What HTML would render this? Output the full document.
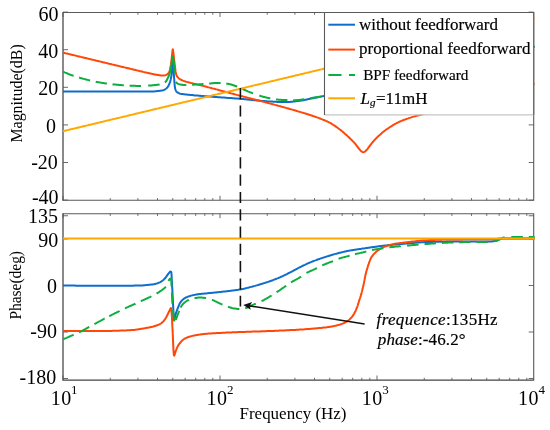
<!DOCTYPE html>
<html lang="en"><head><meta charset="utf-8"><title>Bode plot</title>
<style>html,body{margin:0;padding:0;background:#fff;}body{width:550px;height:430px;overflow:hidden;}svg{display:block;}text{font-family:"Liberation Serif","Times New Roman",serif;fill:#000;}.b{stroke:#000;stroke-width:0.18px;}</style>
</head><body>
<svg width="550" height="430" viewBox="0 0 550 430">
<rect width="550" height="430" fill="#fff"/>
<defs><clipPath id="ct"><rect x="62" y="11" width="473" height="190"/></clipPath><clipPath id="cb"><rect x="62" y="213" width="473" height="168"/></clipPath></defs>
<g fill="none" stroke="#5a5a5a" stroke-width="1.1">
<path d="M63.0,12.5 H533.7 V200.3 H63.0"/>
<path d="M63.0,213.7 H533.7 V380.0"/>
</g>
<path d="M63.0,12.0 V200.8 M63.0,213.2 V380.6 M62.5,380.0 H534.2" fill="none" stroke="#444" stroke-width="1.25"/>
<g fill="none" stroke="#5a5a5a" stroke-width="0.9">
<path d="M63.00,200.3 v-4.5 M110.26,200.3 v-2.2 M137.91,200.3 v-2.2 M157.52,200.3 v-2.2 M172.74,200.3 v-2.2 M185.17,200.3 v-2.2 M195.68,200.3 v-2.2 M204.79,200.3 v-2.2 M212.82,200.3 v-2.2 M220.00,200.3 v-4.5 M267.26,200.3 v-2.2 M294.91,200.3 v-2.2 M314.52,200.3 v-2.2 M329.74,200.3 v-2.2 M342.17,200.3 v-2.2 M352.68,200.3 v-2.2 M361.79,200.3 v-2.2 M369.82,200.3 v-2.2 M377.00,200.3 v-4.5 M424.26,200.3 v-2.2 M451.91,200.3 v-2.2 M471.52,200.3 v-2.2 M486.74,200.3 v-2.2 M499.17,200.3 v-2.2 M509.68,200.3 v-2.2 M518.79,200.3 v-2.2 M526.82,200.3 v-2.2"/>
<path d="M63.00,12.5 v4.5 M110.26,12.5 v2.2 M137.91,12.5 v2.2 M157.52,12.5 v2.2 M172.74,12.5 v2.2 M185.17,12.5 v2.2 M195.68,12.5 v2.2 M204.79,12.5 v2.2 M212.82,12.5 v2.2 M220.00,12.5 v4.5 M267.26,12.5 v2.2 M294.91,12.5 v2.2 M314.52,12.5 v2.2 M329.74,12.5 v2.2 M342.17,12.5 v2.2 M352.68,12.5 v2.2 M361.79,12.5 v2.2 M369.82,12.5 v2.2 M377.00,12.5 v4.5 M424.26,12.5 v2.2 M451.91,12.5 v2.2 M471.52,12.5 v2.2 M486.74,12.5 v2.2 M499.17,12.5 v2.2 M509.68,12.5 v2.2 M518.79,12.5 v2.2 M526.82,12.5 v2.2"/>
<path d="M63.00,380.0 v-4.5 M110.26,380.0 v-2.2 M137.91,380.0 v-2.2 M157.52,380.0 v-2.2 M172.74,380.0 v-2.2 M185.17,380.0 v-2.2 M195.68,380.0 v-2.2 M204.79,380.0 v-2.2 M212.82,380.0 v-2.2 M220.00,380.0 v-4.5 M267.26,380.0 v-2.2 M294.91,380.0 v-2.2 M314.52,380.0 v-2.2 M329.74,380.0 v-2.2 M342.17,380.0 v-2.2 M352.68,380.0 v-2.2 M361.79,380.0 v-2.2 M369.82,380.0 v-2.2 M377.00,380.0 v-4.5 M424.26,380.0 v-2.2 M451.91,380.0 v-2.2 M471.52,380.0 v-2.2 M486.74,380.0 v-2.2 M499.17,380.0 v-2.2 M509.68,380.0 v-2.2 M518.79,380.0 v-2.2 M526.82,380.0 v-2.2"/>
<path d="M63.00,213.7 v4.5 M110.26,213.7 v2.2 M137.91,213.7 v2.2 M157.52,213.7 v2.2 M172.74,213.7 v2.2 M185.17,213.7 v2.2 M195.68,213.7 v2.2 M204.79,213.7 v2.2 M212.82,213.7 v2.2 M220.00,213.7 v4.5 M267.26,213.7 v2.2 M294.91,213.7 v2.2 M314.52,213.7 v2.2 M329.74,213.7 v2.2 M342.17,213.7 v2.2 M352.68,213.7 v2.2 M361.79,213.7 v2.2 M369.82,213.7 v2.2 M377.00,213.7 v4.5 M424.26,213.7 v2.2 M451.91,213.7 v2.2 M471.52,213.7 v2.2 M486.74,213.7 v2.2 M499.17,213.7 v2.2 M509.68,213.7 v2.2 M518.79,213.7 v2.2 M526.82,213.7 v2.2"/>
<path d="M63.0,12.10 h5 M533.7,12.10 h-5 M63.0,49.70 h5 M533.7,49.70 h-5 M63.0,87.30 h5 M533.7,87.30 h-5 M63.0,124.90 h5 M533.7,124.90 h-5 M63.0,162.50 h5 M533.7,162.50 h-5 M63.0,200.10 h5 M533.7,200.10 h-5"/>
<path d="M63.0,215.75 h5 M533.7,215.75 h-5 M63.0,239.00 h5 M533.7,239.00 h-5 M63.0,285.50 h5 M533.7,285.50 h-5 M63.0,332.00 h5 M533.7,332.00 h-5 M63.0,378.50 h5 M533.7,378.50 h-5"/>
</g>
<g fill="none" stroke-width="2" stroke-linejoin="round" clip-path="url(#ct)">
<path stroke="#0F6DCB" d="M63.0,91.6 L63.8,91.6 L64.6,91.6 L65.4,91.6 L66.2,91.6 L67.0,91.6 L67.8,91.6 L68.6,91.6 L69.4,91.6 L70.2,91.6 L71.0,91.6 L71.8,91.6 L72.6,91.6 L73.4,91.6 L74.2,91.6 L75.0,91.6 L75.8,91.6 L76.6,91.6 L77.4,91.6 L78.2,91.6 L79.0,91.6 L79.8,91.6 L80.6,91.6 L81.4,91.6 L82.2,91.6 L83.0,91.6 L83.8,91.6 L84.6,91.6 L85.4,91.6 L86.2,91.6 L87.0,91.6 L87.8,91.6 L88.6,91.6 L89.4,91.6 L90.2,91.6 L91.0,91.6 L91.8,91.6 L92.6,91.6 L93.4,91.6 L94.2,91.6 L95.0,91.6 L95.8,91.6 L96.6,91.6 L97.4,91.6 L98.2,91.6 L99.0,91.6 L99.8,91.6 L100.6,91.6 L101.4,91.6 L102.2,91.6 L103.0,91.6 L103.8,91.6 L104.6,91.6 L105.4,91.6 L106.2,91.6 L107.0,91.6 L107.8,91.6 L108.6,91.6 L109.4,91.6 L110.2,91.6 L111.0,91.6 L111.8,91.6 L112.6,91.6 L113.4,91.6 L114.2,91.6 L115.0,91.6 L115.8,91.6 L116.6,91.6 L117.4,91.6 L118.2,91.6 L119.0,91.6 L119.8,91.6 L120.6,91.6 L121.4,91.6 L122.2,91.6 L123.0,91.6 L123.8,91.6 L124.6,91.6 L125.4,91.6 L126.2,91.6 L127.0,91.6 L127.8,91.6 L128.6,91.6 L129.4,91.6 L130.2,91.6 L131.0,91.6 L131.8,91.6 L132.6,91.6 L133.4,91.6 L134.2,91.6 L135.0,91.6 L135.8,91.6 L136.6,91.6 L137.4,91.6 L138.2,91.6 L139.0,91.6 L139.8,91.6 L140.6,91.6 L141.4,91.6 L142.2,91.6 L143.0,91.6 L143.8,91.6 L144.6,91.5 L145.4,91.5 L146.2,91.5 L147.0,91.5 L147.8,91.5 L148.6,91.5 L149.4,91.5 L150.2,91.5 L151.0,91.5 L151.8,91.5 L152.6,91.4 L153.4,91.4 L154.2,91.4 L155.0,91.3 L155.8,91.2 L156.6,91.2 L157.4,91.1 L158.2,91.0 L159.0,90.9 L159.8,90.8 L160.6,90.7 L161.4,90.6 L162.2,90.4 L163.0,90.3 L163.8,90.1 L164.5,89.7 L165.2,89.3 L165.9,88.8 L166.5,88.3 L167.1,87.7 L167.6,87.1 L168.1,86.4 L168.5,85.7 L168.8,85.0 L169.2,84.3 L169.5,83.5 L169.8,82.7 L170.1,82.0 L170.3,81.2 L170.5,80.3 L170.7,79.5 L170.9,78.6 L171.1,77.8 L171.2,77.0 L171.4,76.1 L171.5,75.2 L171.6,74.4 L171.7,73.5 L171.8,72.5 L171.9,71.5 L172.0,70.5 L172.1,69.6 L172.2,68.7 L172.3,67.7 L172.4,66.9 L172.4,66.0 L172.5,65.2 L172.6,64.3 L172.8,63.5 L173.0,64.3 L173.1,65.2 L173.2,66.1 L173.3,67.0 L173.3,67.9 L173.4,68.7 L173.5,69.6 L173.6,70.7 L173.6,71.5 L173.7,72.3 L173.8,73.2 L173.8,74.1 L173.9,74.9 L173.9,75.7 L174.0,76.8 L174.1,77.8 L174.2,78.6 L174.2,79.4 L174.3,80.2 L174.3,81.0 L174.4,82.1 L174.5,83.1 L174.6,84.1 L174.7,85.0 L174.7,85.7 L174.8,86.6 L175.0,87.5 L175.1,88.3 L175.3,89.1 L175.6,89.9 L175.9,90.6 L176.3,91.4 L176.9,91.9 L177.5,92.4 L178.2,92.9 L178.9,93.2 L179.7,93.5 L180.4,93.7 L181.2,93.9 L182.0,94.0 L182.8,94.1 L183.6,94.2 L184.4,94.3 L185.2,94.4 L186.0,94.5 L186.8,94.6 L187.6,94.7 L188.4,94.7 L189.2,94.8 L190.0,94.9 L190.8,95.0 L191.6,95.1 L192.4,95.1 L193.2,95.2 L194.0,95.3 L194.8,95.4 L195.6,95.4 L196.4,95.5 L197.2,95.6 L198.0,95.6 L198.8,95.7 L199.6,95.8 L200.4,95.8 L201.2,95.9 L202.0,96.0 L202.8,96.0 L203.6,96.1 L204.4,96.2 L205.2,96.2 L206.0,96.3 L206.8,96.3 L207.6,96.4 L208.4,96.5 L209.2,96.5 L210.0,96.6 L210.8,96.6 L211.6,96.7 L212.4,96.8 L213.2,96.8 L214.0,96.9 L214.8,96.9 L215.6,97.0 L216.4,97.1 L217.2,97.1 L218.0,97.2 L218.8,97.2 L219.6,97.3 L220.4,97.3 L221.2,97.4 L222.0,97.5 L222.8,97.5 L223.6,97.6 L224.4,97.6 L225.2,97.7 L226.0,97.7 L226.8,97.8 L227.6,97.9 L228.4,97.9 L229.2,98.0 L230.0,98.0 L230.8,98.1 L231.6,98.1 L232.4,98.2 L233.2,98.3 L234.0,98.3 L234.8,98.4 L235.6,98.5 L236.4,98.5 L237.2,98.6 L238.0,98.6 L238.8,98.7 L239.6,98.8 L240.4,98.8 L241.2,98.9 L242.0,99.0 L242.8,99.0 L243.6,99.1 L244.4,99.2 L245.2,99.3 L246.0,99.3 L246.8,99.4 L247.6,99.5 L248.4,99.6 L249.2,99.7 L250.0,99.8 L250.8,99.8 L251.6,99.9 L252.4,100.0 L253.2,100.1 L254.0,100.2 L254.8,100.2 L255.6,100.3 L256.4,100.4 L257.2,100.5 L258.0,100.6 L258.8,100.6 L259.6,100.7 L260.4,100.8 L261.2,100.9 L262.0,100.9 L262.8,101.0 L263.6,101.1 L264.4,101.1 L265.2,101.2 L266.0,101.3 L266.8,101.3 L267.6,101.4 L268.4,101.4 L269.2,101.5 L270.0,101.5 L270.8,101.5 L271.6,101.6 L272.4,101.6 L273.2,101.7 L274.0,101.7 L274.8,101.8 L275.6,101.8 L276.4,101.8 L277.2,101.9 L278.0,101.9 L278.8,102.0 L279.6,102.0 L280.4,102.0 L281.2,102.0 L282.0,102.1 L282.8,102.1 L283.6,102.1 L284.4,102.1 L285.2,102.1 L286.0,102.1 L286.8,102.1 L287.6,102.0 L288.4,102.0 L289.2,102.0 L290.0,101.9 L290.8,101.8 L291.6,101.8 L292.4,101.7 L293.2,101.6 L294.0,101.5 L294.8,101.4 L295.6,101.3 L296.4,101.2 L297.2,101.1 L298.0,101.0 L298.8,100.9 L299.6,100.8 L300.4,100.7 L301.2,100.6 L302.0,100.5 L302.8,100.3 L303.6,100.2 L304.4,100.0 L305.2,99.8 L306.0,99.7 L306.8,99.5 L307.6,99.3 L308.4,99.1 L309.2,99.0 L310.0,98.8 L310.8,98.6 L311.6,98.5 L312.4,98.3 L313.2,98.2 L314.0,98.0 L314.8,97.8 L315.6,97.7 L316.4,97.5 L317.2,97.4 L318.0,97.2 L318.8,97.1 L319.6,96.9 L320.4,96.7 L321.2,96.6 L322.0,96.4 L322.8,96.2 L323.6,96.1 L324.4,95.9 L325.2,95.7 L326.0,95.6 L326.8,95.4 L327.6,95.2 L328.4,95.1 L329.2,94.9 L330.0,94.7 L330.8,94.5 L331.6,94.4 L332.4,94.2 L333.2,94.0 L334.0,93.9 L334.8,93.7 L335.6,93.5 L336.4,93.3 L337.2,93.2 L338.0,93.0 L338.8,92.8 L339.6,92.6 L340.4,92.4 L341.2,92.3 L342.0,92.1 L342.8,91.9 L343.6,91.7 L344.4,91.5 L345.2,91.4 L346.0,91.2 L346.8,91.0 L347.6,90.8 L348.4,90.6 L349.2,90.5 L350.0,90.3 L350.8,90.1 L351.6,89.9 L352.4,89.7 L353.2,89.6 L354.0,89.4 L354.8,89.2 L355.5,89.0 L356.3,88.8 L357.1,88.7 L357.9,88.5 L358.7,88.3 L359.4,88.1 L360.2,87.9 L361.0,87.8 L361.8,87.6 L362.6,87.4 L363.3,87.2 L364.1,87.0 L364.9,86.9 L365.7,86.7 L366.5,86.5 L367.2,86.3 L368.0,86.1 L368.8,86.0 L369.6,85.8 L370.4,85.6 L371.1,85.4 L371.9,85.2 L372.7,85.0 L373.5,84.8 L374.3,84.7 L375.0,84.5 L375.8,84.3 L376.6,84.1 L377.4,83.9 L378.2,83.7 L378.9,83.5 L379.7,83.4 L380.5,83.2 L381.3,83.0 L382.1,82.8 L382.8,82.6 L383.6,82.4 L384.4,82.2 L385.2,82.1 L386.0,81.9 L386.7,81.7 L387.5,81.5 L388.3,81.3 L389.1,81.1 L389.9,80.9 L390.6,80.7 L391.4,80.6 L392.2,80.4 L393.0,80.2 L393.8,80.0 L394.5,79.8 L395.3,79.6 L396.1,79.4 L396.9,79.2 L397.7,79.1 L398.4,78.9 L399.2,78.7 L400.0,78.5 L400.8,78.3 L401.6,78.1 L402.3,77.9 L403.1,77.8 L403.9,77.6 L404.7,77.4 L405.5,77.2 L406.2,77.0 L407.0,76.8 L407.8,76.6 L408.6,76.4 L409.4,76.3 L410.1,76.1 L410.9,75.9 L411.7,75.7 L412.5,75.5 L413.3,75.3 L414.0,75.1 L414.8,74.9 L415.6,74.8 L416.4,74.6 L417.2,74.4 L417.9,74.2 L418.7,74.0 L419.5,73.8 L420.3,73.6 L421.1,73.4 L421.8,73.3 L422.6,73.1 L423.4,72.9 L424.2,72.7 L425.0,72.5 L425.7,72.3 L426.5,72.1 L427.3,71.9 L428.1,71.8 L428.9,71.6 L429.6,71.4 L430.4,71.2 L431.2,71.0 L432.0,70.8 L432.8,70.6 L433.5,70.4 L434.3,70.3 L435.1,70.1 L435.9,69.9 L436.7,69.7 L437.4,69.5 L438.2,69.3 L439.0,69.1 L439.8,68.9 L440.6,68.8 L441.3,68.6 L442.1,68.4 L442.9,68.2 L443.7,68.0 L444.5,67.8 L445.2,67.6 L446.0,67.5 L446.8,67.3 L447.6,67.1 L448.4,66.9 L449.1,66.7 L449.9,66.5 L450.7,66.3 L451.5,66.1 L452.3,66.0 L453.0,65.8 L453.8,65.6 L454.6,65.4 L455.4,65.2 L456.2,65.0 L456.9,64.8 L457.7,64.7 L458.5,64.5 L459.3,64.3 L460.1,64.1 L460.8,63.9 L461.6,63.7 L462.4,63.5 L463.2,63.4 L464.0,63.2 L464.7,63.0 L465.5,62.8 L466.3,62.6 L467.1,62.4 L467.9,62.2 L468.6,62.0 L469.4,61.9 L470.2,61.7 L471.0,61.5 L471.8,61.3 L472.5,61.1 L473.3,60.9 L474.1,60.7 L474.9,60.6 L475.7,60.4 L476.4,60.2 L477.2,60.0 L478.0,59.8 L478.8,59.6 L479.6,59.4 L480.3,59.3 L481.1,59.1 L481.9,58.9 L482.7,58.7 L483.5,58.5 L484.2,58.3 L485.0,58.1 L485.8,58.0 L486.6,57.8 L487.4,57.6 L488.1,57.4 L488.9,57.2 L489.7,57.0 L490.5,56.9 L491.3,56.7 L492.0,56.5 L492.8,56.3 L493.6,56.1 L494.4,55.9 L495.2,55.7 L495.9,55.6 L496.7,55.4 L497.5,55.2 L498.3,55.0 L499.1,54.8 L499.8,54.6 L500.6,54.5 L501.4,54.3 L502.2,54.1 L503.0,53.9 L503.7,53.7 L504.5,53.5 L505.3,53.3 L506.1,53.2 L506.9,53.0 L507.6,52.8 L508.4,52.6 L509.2,52.4 L510.0,52.2 L510.8,52.1 L511.5,51.9 L512.3,51.7 L513.1,51.5 L513.9,51.3 L514.7,51.1 L515.4,51.0 L516.2,50.8 L517.0,50.6 L517.8,50.4 L518.6,50.2 L519.3,50.0 L520.1,49.9 L520.9,49.7 L521.7,49.5 L522.5,49.3 L523.2,49.1 L524.0,49.0 L524.8,48.8 L525.6,48.6 L526.4,48.4 L527.1,48.2 L527.9,48.0 L528.7,47.9 L529.5,47.7 L530.3,47.5 L531.0,47.3 L531.8,47.1 L532.6,46.9 L533.4,46.8 L534.2,46.6 L534.5,46.5"/>
<path stroke="#FF4708" d="M63.0,52.6 L63.8,52.8 L64.6,53.0 L65.3,53.2 L66.1,53.4 L66.9,53.5 L67.7,53.7 L68.5,53.9 L69.2,54.1 L70.0,54.3 L70.8,54.5 L71.6,54.7 L72.4,54.9 L73.1,55.0 L73.9,55.2 L74.7,55.4 L75.5,55.6 L76.3,55.8 L77.0,56.0 L77.8,56.2 L78.6,56.4 L79.4,56.5 L80.2,56.7 L80.9,56.9 L81.7,57.1 L82.5,57.3 L83.3,57.5 L84.1,57.7 L84.8,57.9 L85.6,58.0 L86.4,58.2 L87.2,58.4 L88.0,58.6 L88.7,58.8 L89.5,59.0 L90.3,59.2 L91.1,59.4 L91.9,59.5 L92.6,59.7 L93.4,59.9 L94.2,60.1 L95.0,60.3 L95.8,60.5 L96.5,60.7 L97.3,60.9 L98.1,61.0 L98.9,61.2 L99.7,61.4 L100.4,61.6 L101.2,61.8 L102.0,62.0 L102.8,62.2 L103.6,62.4 L104.3,62.5 L105.1,62.7 L105.9,62.9 L106.7,63.1 L107.5,63.3 L108.2,63.5 L109.0,63.7 L109.8,63.9 L110.6,64.0 L111.4,64.2 L112.1,64.4 L112.9,64.6 L113.7,64.8 L114.5,65.0 L115.3,65.2 L116.0,65.4 L116.8,65.5 L117.6,65.7 L118.4,65.9 L119.2,66.1 L119.9,66.3 L120.7,66.5 L121.5,66.7 L122.3,66.9 L123.1,67.0 L123.8,67.2 L124.6,67.4 L125.4,67.6 L126.2,67.8 L127.0,68.0 L127.7,68.2 L128.5,68.3 L129.3,68.5 L130.1,68.7 L130.9,68.9 L131.6,69.1 L132.4,69.3 L133.2,69.5 L134.0,69.7 L134.8,69.8 L135.5,70.0 L136.3,70.2 L137.1,70.4 L137.9,70.6 L138.7,70.8 L139.4,71.0 L140.2,71.2 L141.0,71.3 L141.8,71.5 L142.6,71.7 L143.3,71.9 L144.1,72.1 L144.9,72.3 L145.7,72.4 L146.5,72.6 L147.3,72.8 L148.1,73.0 L148.9,73.2 L149.7,73.3 L150.5,73.5 L151.3,73.7 L152.1,73.9 L152.9,74.0 L153.7,74.2 L154.5,74.4 L155.3,74.5 L156.1,74.7 L156.9,74.8 L157.7,75.0 L158.5,75.1 L159.3,75.2 L160.1,75.3 L160.9,75.4 L161.7,75.4 L162.5,75.5 L163.3,75.5 L164.1,75.4 L164.9,75.3 L165.7,75.1 L166.4,74.8 L167.1,74.4 L167.8,73.9 L168.4,73.3 L168.8,72.7 L169.2,71.9 L169.5,71.1 L169.8,70.3 L170.0,69.5 L170.2,68.6 L170.4,67.8 L170.5,67.0 L170.7,66.1 L170.8,65.2 L171.0,64.4 L171.1,63.4 L171.2,62.6 L171.3,61.7 L171.4,60.8 L171.5,59.9 L171.6,59.0 L171.7,58.1 L171.8,57.2 L171.9,56.3 L172.0,55.3 L172.1,54.3 L172.2,53.3 L172.3,52.4 L172.4,51.6 L172.5,50.7 L172.6,49.9 L172.9,49.3 L173.0,50.1 L173.1,51.1 L173.3,51.9 L173.4,52.8 L173.5,53.7 L173.6,54.7 L173.7,55.7 L173.8,56.6 L173.9,57.5 L174.0,58.4 L174.1,59.2 L174.2,60.1 L174.3,60.9 L174.4,61.7 L174.5,62.5 L174.6,63.3 L174.7,64.1 L174.8,65.0 L174.9,65.8 L175.0,66.6 L175.1,67.5 L175.2,68.4 L175.3,69.2 L175.4,70.0 L175.5,70.9 L175.6,71.7 L175.8,72.5 L175.9,73.3 L176.1,74.1 L176.3,74.9 L176.7,75.7 L177.1,76.4 L177.5,77.0 L178.1,77.6 L178.7,78.2 L179.3,78.7 L180.0,79.2 L180.7,79.6 L181.4,80.0 L182.2,80.3 L182.9,80.6 L183.7,80.9 L184.4,81.2 L185.2,81.4 L186.0,81.7 L186.8,81.9 L187.5,82.1 L188.3,82.3 L189.1,82.5 L189.9,82.7 L190.7,82.9 L191.4,83.1 L192.2,83.3 L193.0,83.5 L193.8,83.7 L194.6,83.9 L195.4,84.0 L196.2,84.2 L197.0,84.4 L197.8,84.6 L198.6,84.8 L199.4,84.9 L200.1,85.1 L200.9,85.3 L201.7,85.5 L202.5,85.7 L203.3,85.9 L204.0,86.1 L204.8,86.3 L205.6,86.5 L206.4,86.7 L207.2,87.0 L207.9,87.2 L208.7,87.4 L209.5,87.6 L210.3,87.8 L211.1,88.0 L211.8,88.2 L212.6,88.4 L213.4,88.6 L214.2,88.8 L215.0,89.0 L215.7,89.2 L216.5,89.4 L217.3,89.6 L218.1,89.8 L218.9,90.1 L219.6,90.3 L220.4,90.5 L221.2,90.7 L222.0,90.9 L222.8,91.1 L223.5,91.3 L224.3,91.5 L225.1,91.7 L225.9,91.9 L226.7,92.1 L227.4,92.4 L228.2,92.6 L229.0,92.8 L229.8,93.0 L230.6,93.2 L231.3,93.4 L232.1,93.6 L232.9,93.8 L233.7,94.0 L234.5,94.2 L235.2,94.4 L236.0,94.6 L236.8,94.9 L237.6,95.1 L238.4,95.3 L239.1,95.5 L239.9,95.7 L240.7,95.9 L241.5,96.1 L242.3,96.3 L243.0,96.5 L243.8,96.7 L244.6,96.9 L245.4,97.1 L246.2,97.3 L246.9,97.5 L247.7,97.7 L248.5,97.9 L249.3,98.1 L250.1,98.3 L250.8,98.5 L251.6,98.7 L252.4,98.9 L253.2,99.1 L254.0,99.3 L254.7,99.5 L255.5,99.7 L256.3,99.9 L257.1,100.1 L257.9,100.3 L258.6,100.5 L259.4,100.7 L260.2,100.9 L261.0,101.1 L261.8,101.3 L262.5,101.5 L263.3,101.7 L264.1,101.9 L264.9,102.1 L265.7,102.3 L266.4,102.6 L267.2,102.8 L268.0,103.0 L268.8,103.2 L269.6,103.4 L270.3,103.6 L271.1,103.8 L271.9,104.0 L272.7,104.2 L273.5,104.4 L274.2,104.6 L275.0,104.9 L275.8,105.1 L276.6,105.3 L277.4,105.5 L278.1,105.7 L278.9,105.9 L279.7,106.1 L280.5,106.3 L281.3,106.6 L282.0,106.8 L282.8,107.0 L283.6,107.2 L284.4,107.4 L285.2,107.6 L285.9,107.9 L286.7,108.1 L287.5,108.3 L288.3,108.5 L289.1,108.7 L289.8,109.0 L290.6,109.2 L291.4,109.4 L292.2,109.6 L293.0,109.8 L293.7,110.1 L294.5,110.3 L295.3,110.5 L296.1,110.7 L296.9,111.0 L297.6,111.2 L298.4,111.4 L299.2,111.7 L300.0,111.9 L300.8,112.1 L301.5,112.4 L302.3,112.6 L303.1,112.8 L303.9,113.1 L304.7,113.3 L305.4,113.5 L306.2,113.8 L307.0,114.0 L307.8,114.3 L308.6,114.5 L309.3,114.8 L310.1,115.0 L310.9,115.3 L311.6,115.5 L312.4,115.8 L313.2,116.1 L313.9,116.3 L314.7,116.6 L315.4,116.8 L316.2,117.1 L317.0,117.4 L317.7,117.6 L318.5,117.9 L319.2,118.2 L320.0,118.5 L320.8,118.8 L321.5,119.1 L322.3,119.4 L323.0,119.7 L323.8,120.0 L324.6,120.3 L325.3,120.6 L326.0,120.9 L326.8,121.2 L327.5,121.6 L328.3,121.9 L329.0,122.3 L329.7,122.6 L330.4,123.0 L331.1,123.4 L331.8,123.9 L332.5,124.3 L333.2,124.8 L333.9,125.2 L334.5,125.7 L335.2,126.1 L335.9,126.6 L336.6,127.1 L337.2,127.5 L337.9,128.0 L338.5,128.5 L339.2,129.0 L339.8,129.5 L340.5,130.0 L341.1,130.5 L341.7,131.0 L342.4,131.5 L343.0,132.0 L343.6,132.6 L344.2,133.1 L344.8,133.7 L345.5,134.2 L346.1,134.7 L346.7,135.3 L347.3,135.8 L347.9,136.4 L348.5,136.9 L349.1,137.5 L349.6,138.1 L350.2,138.6 L350.8,139.2 L351.4,139.7 L352.0,140.3 L352.5,140.9 L353.1,141.5 L353.7,142.0 L354.2,142.6 L354.8,143.2 L355.3,143.9 L355.8,144.5 L356.3,145.2 L356.8,145.8 L357.3,146.5 L357.8,147.1 L358.3,147.8 L358.8,148.4 L359.3,149.0 L359.8,149.7 L360.3,150.3 L360.9,150.9 L361.5,151.4 L362.2,151.9 L362.9,152.2 L363.7,152.2 L364.4,151.9 L365.1,151.5 L365.7,150.9 L366.3,150.3 L366.8,149.7 L367.4,149.1 L367.9,148.4 L368.3,147.8 L368.8,147.1 L369.3,146.4 L369.8,145.8 L370.3,145.1 L370.8,144.5 L371.3,143.9 L371.8,143.2 L372.3,142.6 L372.8,142.0 L373.4,141.3 L373.9,140.7 L374.4,140.1 L375.0,139.5 L375.6,138.9 L376.1,138.3 L376.7,137.8 L377.3,137.2 L377.9,136.6 L378.5,136.1 L379.1,135.5 L379.7,135.0 L380.3,134.4 L380.9,133.9 L381.5,133.4 L382.1,132.8 L382.7,132.3 L383.4,131.8 L384.0,131.3 L384.6,130.8 L385.3,130.3 L385.9,129.8 L386.6,129.3 L387.3,128.9 L388.0,128.4 L388.6,128.0 L389.3,127.5 L390.0,127.1 L390.7,126.7 L391.4,126.2 L392.0,125.8 L392.7,125.4 L393.4,124.9 L394.1,124.5 L394.8,124.1 L395.5,123.7 L396.3,123.3 L397.0,122.9 L397.7,122.6 L398.4,122.2 L399.2,121.9 L399.9,121.5 L400.6,121.2 L401.4,120.9 L402.1,120.6 L402.9,120.3 L403.7,120.0 L404.4,119.7 L405.2,119.4 L405.9,119.2 L406.7,118.9 L407.5,118.6 L408.2,118.4 L409.0,118.1 L409.7,117.9 L410.5,117.6 L411.3,117.4 L412.0,117.1 L412.8,116.9 L413.6,116.6 L414.3,116.4 L415.1,116.2 L415.9,116.0 L416.7,115.8 L417.5,115.6 L418.3,115.4 L419.1,115.2 L419.8,115.0 L420.6,114.8 L421.4,114.6 L422.2,114.4 L423.0,114.1 L423.7,113.9 L424.5,113.6 L425.3,113.3 L426.0,113.1 L426.8,112.8 L427.5,112.5 L428.3,112.3 L429.1,112.0 L429.8,111.7 L430.6,111.4 L431.3,111.1 L432.1,110.8 L432.9,110.5 L433.6,110.3 L434.4,110.0 L435.1,109.7 L435.9,109.4 L436.7,109.1 L437.4,108.9 L438.2,108.6 L438.9,108.4 L439.7,108.1 L440.5,107.8 L441.3,107.6 L442.0,107.3 L442.8,107.1 L443.6,106.8 L444.4,106.6 L445.2,106.3 L445.9,106.1 L446.7,105.8 L447.5,105.6 L448.3,105.3 L449.1,105.1 L449.8,104.9 L450.6,104.6 L451.4,104.4 L452.2,104.1 L453.0,103.9 L453.7,103.7 L454.5,103.4 L455.3,103.2 L456.1,102.9 L456.9,102.7 L457.6,102.5 L458.4,102.2 L459.2,102.0 L460.0,101.8 L460.8,101.6 L461.5,101.3 L462.3,101.1 L463.1,100.9 L463.9,100.7 L464.7,100.4 L465.4,100.2 L466.2,100.0 L467.0,99.8 L467.8,99.6 L468.6,99.4 L469.3,99.2 L470.1,99.0 L470.9,98.8 L471.7,98.6 L472.5,98.4 L473.2,98.2 L474.0,98.0 L474.8,97.8 L475.6,97.6 L476.4,97.4 L477.1,97.2 L477.9,97.0 L478.7,96.8 L479.5,96.7 L480.3,96.5 L481.0,96.3 L481.8,96.1 L482.6,95.9 L483.4,95.8 L484.2,95.6 L485.0,95.4 L485.8,95.2 L486.6,95.0 L487.4,94.9 L488.2,94.7 L489.0,94.5 L489.8,94.3 L490.6,94.1 L491.4,94.0 L492.2,93.8 L493.0,93.6 L493.8,93.4 L494.6,93.2 L495.4,93.1 L496.2,92.9 L497.0,92.7 L497.8,92.5 L498.5,92.3 L499.3,92.2 L500.1,92.0 L500.9,91.8 L501.7,91.6 L502.4,91.4 L503.2,91.3 L504.0,91.1 L504.8,90.9 L505.6,90.7 L506.3,90.5 L507.1,90.3 L507.9,90.2 L508.7,90.0 L509.5,89.8 L510.2,89.6 L511.0,89.4 L511.8,89.3 L512.6,89.1 L513.4,88.9 L514.1,88.7 L514.9,88.5 L515.7,88.4 L516.5,88.2 L517.3,88.0 L518.0,87.8 L518.8,87.6 L519.6,87.4 L520.4,87.3 L521.2,87.1 L521.9,86.9 L522.7,86.7 L523.5,86.5 L524.3,86.4 L525.1,86.2 L525.8,86.0 L526.6,85.8 L527.4,85.6 L528.2,85.5 L529.0,85.3 L529.7,85.1 L530.5,84.9 L531.3,84.7 L532.1,84.6 L532.9,84.4 L533.6,84.2 L534.4,84.0 L534.5,84.0"/>
<path stroke="#0DAE3E" d="M63.0,71.6 L63.7,71.9 L64.5,72.3 L65.2,72.6 L66.0,72.9 L66.7,73.2 L67.4,73.5 L68.2,73.9 L69.0,74.2 L69.7,74.5 L70.5,74.7 L71.2,75.0 L72.0,75.3 L72.8,75.6 L73.5,75.8 L73.6,75.8 M79.1,77.5 L79.9,77.8 L80.6,78.0 L81.4,78.2 L82.2,78.4 L83.0,78.7 L83.8,78.9 L84.5,79.1 L85.3,79.3 L86.1,79.5 L86.9,79.7 L87.7,79.9 L88.4,80.1 L89.2,80.3 L90.0,80.5 L90.1,80.5 M95.7,81.7 L96.5,81.9 L97.3,82.0 L98.1,82.2 L98.9,82.3 L99.7,82.4 L100.5,82.6 L101.3,82.7 L102.1,82.9 L102.9,83.0 L103.7,83.1 L104.5,83.2 L105.3,83.4 L106.1,83.5 L106.9,83.6 L106.9,83.6 M112.5,84.3 L113.3,84.4 L114.1,84.5 L114.9,84.5 L115.7,84.6 L116.5,84.7 L117.3,84.8 L118.1,84.8 L118.9,84.9 L119.7,85.0 L120.5,85.0 L121.3,85.1 L122.1,85.2 L122.9,85.2 L123.7,85.3 L123.8,85.3 M129.6,85.7 L130.4,85.7 L131.2,85.7 L132.0,85.8 L132.8,85.8 L133.6,85.8 L134.4,85.8 L135.2,85.8 L136.0,85.9 L136.8,85.9 L137.6,85.9 L138.4,85.9 L139.2,85.9 L140.0,85.9 L140.8,85.9 L141.0,85.9 M148.2,85.6 L149.0,85.6 L149.8,85.5 L150.6,85.5 L151.4,85.4 L152.2,85.3 L153.0,85.3 L153.8,85.2 L154.6,85.1 L155.4,85.0 L156.2,84.9 L157.0,84.8 L157.8,84.7 L158.6,84.6 L159.4,84.5 L159.5,84.4 M164.9,82.4 L165.5,81.9 L166.0,81.3 L166.5,80.6 L166.9,79.9 L167.3,79.2 L167.6,78.4 L168.0,77.7 L168.4,76.9 L168.7,76.2 L169.0,75.4 L169.3,74.6 L169.6,73.9 L169.8,73.1 L170.0,72.4 M171.1,66.7 L171.2,65.8 L171.4,65.0 L171.5,64.1 L171.6,63.2 L171.8,62.4 L171.9,61.5 L172.0,60.5 L172.1,59.6 L172.2,58.7 L172.4,57.8 L172.5,57.0 L172.6,56.1 L172.9,55.8 M173.7,61.6 L173.8,62.5 L173.9,63.5 L174.0,64.4 L174.1,65.3 L174.1,66.3 L174.2,67.2 L174.3,68.0 L174.3,68.9 L174.4,69.7 L174.4,70.6 L174.5,71.4 L174.6,72.2 L174.6,72.8 M175.9,81.8 L176.3,82.5 L176.9,83.1 L177.5,83.6 L178.3,83.9 L179.0,84.2 L179.8,84.4 L180.6,84.5 L181.4,84.7 L182.2,84.8 L183.0,84.9 L183.8,84.9 L184.6,85.0 L185.4,85.0 L186.2,85.0 L186.3,85.0 M192.1,84.8 L192.9,84.7 L193.7,84.7 L194.5,84.6 L195.3,84.6 L196.1,84.5 L196.9,84.5 L197.7,84.4 L198.5,84.4 L199.3,84.3 L200.1,84.3 L200.9,84.2 L201.7,84.2 L202.5,84.1 L203.3,84.1 L203.4,84.1 M209.2,83.5 L210.0,83.5 L210.8,83.4 L211.6,83.3 L212.4,83.3 L213.2,83.2 L214.0,83.1 L214.8,83.1 L215.6,83.0 L216.4,83.0 L217.2,83.0 L218.0,82.9 L218.8,82.9 L219.6,82.9 L220.4,82.9 L220.6,82.9 M226.3,83.5 L227.1,83.7 L227.9,83.8 L228.7,83.9 L229.5,84.1 L230.3,84.3 L231.1,84.5 L231.8,84.8 L232.6,85.0 L233.4,85.3 L234.1,85.5 L234.9,85.8 L235.7,86.0 L236.4,86.3 L237.2,86.6 L237.2,86.6 M242.5,88.9 L243.2,89.3 L244.0,89.6 L244.7,90.0 L245.5,90.3 L246.2,90.6 L246.9,91.0 L247.7,91.3 L248.4,91.6 L249.2,91.9 L249.9,92.2 L250.7,92.5 L251.5,92.7 L252.2,93.0 L253.0,93.3 L253.0,93.3 M259.3,95.6 L260.1,95.8 L260.9,96.1 L261.6,96.3 L262.4,96.5 L263.2,96.8 L264.0,97.0 L264.8,97.1 L265.5,97.3 L266.3,97.5 L267.1,97.7 L267.9,97.9 L268.7,98.0 L269.5,98.2 L270.3,98.4 L270.3,98.4 M276.0,99.4 L276.8,99.5 L277.6,99.6 L278.4,99.7 L279.2,99.8 L280.0,99.8 L280.8,99.8 L281.6,99.9 L282.4,99.9 L283.2,99.9 L284.0,100.0 L284.8,100.0 L285.6,100.0 L286.4,100.1 L287.2,100.1 L287.4,100.1 M293.1,100.2 L293.9,100.2 L294.7,100.2 L295.5,100.2 L296.3,100.2 L297.1,100.1 L297.9,100.1 L298.7,100.0 L299.5,99.9 L300.3,99.8 L301.1,99.7 L301.9,99.6 L302.7,99.4 L303.5,99.3 L304.3,99.2 L304.4,99.1 M310.3,98.2 L311.1,98.0 L311.9,97.9 L312.7,97.8 L313.5,97.7 L314.3,97.6 L315.1,97.5 L315.9,97.3 L316.7,97.2 L317.5,97.1 L318.3,97.0 L319.1,96.8 L319.9,96.7 L320.7,96.6 L321.5,96.4 L321.6,96.4 M327.2,95.4 L328.0,95.2 L328.8,95.1 L329.6,94.9 L330.4,94.8 L331.2,94.6 L332.0,94.4 L332.8,94.3 L333.6,94.1 L334.4,93.9 L335.2,93.7 L336.0,93.6 L336.8,93.4 L337.6,93.2 L338.4,93.1 M344.0,91.8 L344.8,91.6 L345.6,91.4 L346.3,91.2 L347.1,91.0 L347.9,90.8 L348.7,90.7 L349.5,90.5 L350.2,90.3 L351.0,90.1 L351.8,89.9 L352.6,89.7 L353.4,89.6 L354.1,89.4 L354.9,89.2 L355.1,89.1 M360.7,87.8 L361.5,87.7 L362.3,87.5 L363.0,87.3 L363.8,87.1 L364.6,86.9 L365.4,86.8 L366.2,86.6 L366.9,86.4 L367.7,86.2 L368.5,86.0 L369.3,85.8 L370.1,85.7 L370.8,85.5 L371.6,85.3 L371.8,85.3 M377.4,83.9 L378.2,83.7 L378.9,83.5 L379.7,83.4 L380.5,83.2 L381.3,83.0 L382.1,82.8 L382.8,82.6 L383.6,82.4 L384.4,82.2 L385.2,82.1 L386.0,81.9 L386.7,81.7 L387.5,81.5 L388.3,81.3 L388.5,81.3 M394.1,79.9 L394.8,79.7 L395.6,79.5 L396.4,79.4 L397.2,79.2 L398.0,79.0 L398.7,78.8 L399.5,78.6 L400.3,78.4 L401.1,78.2 L401.9,78.1 L402.6,77.9 L403.4,77.7 L404.2,77.5 L405.0,77.3 L405.1,77.3 M410.7,75.9 L411.5,75.7 L412.3,75.6 L413.1,75.4 L413.9,75.2 L414.6,75.0 L415.4,74.8 L416.2,74.6 L417.0,74.4 L417.8,74.2 L418.5,74.1 L419.3,73.9 L420.1,73.7 L420.9,73.5 L421.7,73.3 L421.8,73.3 M427.4,71.9 L428.2,71.7 L429.0,71.5 L429.8,71.4 L430.5,71.2 L431.3,71.0 L432.1,70.8 L432.9,70.6 L433.7,70.4 L434.4,70.2 L435.2,70.0 L436.0,69.9 L436.8,69.7 L437.6,69.5 L438.3,69.3 L438.5,69.3 M444.1,67.9 L444.9,67.7 L445.7,67.5 L446.4,67.4 L447.2,67.2 L448.0,67.0 L448.8,66.8 L449.6,66.6 L450.3,66.4 L451.1,66.2 L451.9,66.0 L452.7,65.9 L453.5,65.7 L454.2,65.5 L455.0,65.3 L455.2,65.3 M460.8,63.9 L461.6,63.7 L462.3,63.6 L463.1,63.4 L463.9,63.2 L464.7,63.0 L465.5,62.8 L466.2,62.6 L467.0,62.4 L467.8,62.2 L468.6,62.1 L469.4,61.9 L470.1,61.7 L470.9,61.5 L471.7,61.3 L471.8,61.3 M477.5,59.9 L478.2,59.8 L479.0,59.6 L479.8,59.4 L480.6,59.2 L481.4,59.0 L482.1,58.8 L482.9,58.6 L483.7,58.5 L484.5,58.3 L485.3,58.1 L486.0,57.9 L486.8,57.7 L487.6,57.5 L488.4,57.4 L488.5,57.3 M494.1,56.0 L494.9,55.8 L495.7,55.6 L496.5,55.4 L497.3,55.2 L498.0,55.1 L498.8,54.9 L499.6,54.7 L500.4,54.5 L501.2,54.3 L501.9,54.1 L502.7,54.0 L503.5,53.8 L504.3,53.6 L505.1,53.4 L505.2,53.4 M510.8,52.0 L511.6,51.9 L512.4,51.7 L513.2,51.5 L514.0,51.3 L514.7,51.1 L515.5,50.9 L516.3,50.8 L517.1,50.6 L517.9,50.4 L518.6,50.2 L519.4,50.0 L520.2,49.8 L521.0,49.7 L521.8,49.5 L521.9,49.4 M527.5,48.1 L528.3,47.9 L529.1,47.8 L529.9,47.6 L530.6,47.4 L531.4,47.2 L532.2,47.0 L533.0,46.9 L533.8,46.7 L534.5,46.5 M165.4,82.0 L165.9,81.4 L166.4,80.7 L166.8,80.0 L167.2,79.3 L167.6,78.6 L167.9,77.8 L168.3,77.1 L168.6,76.3 L169.0,75.6 L169.2,74.8 L169.5,74.0 L169.7,73.3 L170.0,72.4 L170.2,71.6 L170.3,70.7 L170.5,69.9 L170.7,69.1 L170.8,68.2 L171.0,67.4 L171.1,66.6 L171.2,65.7 L171.4,64.9 L171.5,64.0 L171.7,63.1 L171.8,62.2 L171.9,61.3 L172.0,60.5 L172.1,59.6 L172.2,58.7 L172.4,57.8 L172.5,57.0 L172.6,56.1 L172.9,56.0 L173.1,56.9 L173.2,57.7 L173.3,58.6 L173.5,59.5 L173.6,60.3 L173.7,61.2 L173.8,62.1 L173.9,63.1 L173.9,63.9 L174.0,64.8 L174.1,65.8 L174.2,66.9 L174.2,67.7 L174.3,68.6"/>
<path stroke="#FFA800" d="M63.0,131.2 L63.8,131.0 L64.6,130.8 L65.3,130.6 L66.1,130.5 L66.9,130.3 L67.7,130.1 L68.5,129.9 L69.2,129.7 L70.0,129.5 L70.8,129.3 L71.6,129.1 L72.4,129.0 L73.1,128.8 L73.9,128.6 L74.7,128.4 L75.5,128.2 L76.3,128.0 L77.0,127.8 L77.8,127.7 L78.6,127.5 L79.4,127.3 L80.2,127.1 L80.9,126.9 L81.7,126.7 L82.5,126.5 L83.3,126.3 L84.1,126.2 L84.8,126.0 L85.6,125.8 L86.4,125.6 L87.2,125.4 L88.0,125.2 L88.7,125.0 L89.5,124.8 L90.3,124.7 L91.1,124.5 L91.9,124.3 L92.6,124.1 L93.4,123.9 L94.2,123.7 L95.0,123.5 L95.8,123.4 L96.5,123.2 L97.3,123.0 L98.1,122.8 L98.9,122.6 L99.7,122.4 L100.4,122.2 L101.2,122.0 L102.0,121.9 L102.8,121.7 L103.6,121.5 L104.3,121.3 L105.1,121.1 L105.9,120.9 L106.7,120.7 L107.5,120.6 L108.2,120.4 L109.0,120.2 L109.8,120.0 L110.6,119.8 L111.4,119.6 L112.1,119.4 L112.9,119.2 L113.7,119.1 L114.5,118.9 L115.3,118.7 L116.0,118.5 L116.8,118.3 L117.6,118.1 L118.4,117.9 L119.2,117.8 L119.9,117.6 L120.7,117.4 L121.5,117.2 L122.3,117.0 L123.1,116.8 L123.8,116.6 L124.6,116.4 L125.4,116.3 L126.2,116.1 L127.0,115.9 L127.7,115.7 L128.5,115.5 L129.3,115.3 L130.1,115.1 L130.9,114.9 L131.6,114.8 L132.4,114.6 L133.2,114.4 L134.0,114.2 L134.8,114.0 L135.5,113.8 L136.3,113.6 L137.1,113.5 L137.9,113.3 L138.7,113.1 L139.4,112.9 L140.2,112.7 L141.0,112.5 L141.8,112.3 L142.6,112.1 L143.3,112.0 L144.1,111.8 L144.9,111.6 L145.7,111.4 L146.5,111.2 L147.2,111.0 L148.0,110.8 L148.8,110.7 L149.6,110.5 L150.4,110.3 L151.1,110.1 L151.9,109.9 L152.7,109.7 L153.5,109.5 L154.3,109.3 L155.0,109.2 L155.8,109.0 L156.6,108.8 L157.4,108.6 L158.2,108.4 L158.9,108.2 L159.7,108.0 L160.5,107.8 L161.3,107.7 L162.1,107.5 L162.8,107.3 L163.6,107.1 L164.4,106.9 L165.2,106.7 L166.0,106.5 L166.7,106.4 L167.5,106.2 L168.3,106.0 L169.1,105.8 L169.9,105.6 L170.6,105.4 L171.4,105.2 L172.2,105.0 L173.0,104.9 L173.8,104.7 L174.5,104.5 L175.3,104.3 L176.1,104.1 L176.9,103.9 L177.7,103.7 L178.4,103.6 L179.2,103.4 L180.0,103.2 L180.8,103.0 L181.6,102.8 L182.3,102.6 L183.1,102.4 L183.9,102.2 L184.7,102.1 L185.5,101.9 L186.2,101.7 L187.0,101.5 L187.8,101.3 L188.6,101.1 L189.4,100.9 L190.1,100.8 L190.9,100.6 L191.7,100.4 L192.5,100.2 L193.3,100.0 L194.0,99.8 L194.8,99.6 L195.6,99.4 L196.4,99.3 L197.2,99.1 L197.9,98.9 L198.7,98.7 L199.5,98.5 L200.3,98.3 L201.1,98.1 L201.8,97.9 L202.6,97.8 L203.4,97.6 L204.2,97.4 L205.0,97.2 L205.7,97.0 L206.5,96.8 L207.3,96.6 L208.1,96.5 L208.9,96.3 L209.6,96.1 L210.4,95.9 L211.2,95.7 L212.0,95.5 L212.8,95.3 L213.5,95.1 L214.3,95.0 L215.1,94.8 L215.9,94.6 L216.7,94.4 L217.4,94.2 L218.2,94.0 L219.0,93.8 L219.8,93.7 L220.6,93.5 L221.3,93.3 L222.1,93.1 L222.9,92.9 L223.7,92.7 L224.5,92.5 L225.2,92.3 L226.0,92.2 L226.8,92.0 L227.6,91.8 L228.4,91.6 L229.1,91.4 L229.9,91.2 L230.7,91.0 L231.5,90.9 L232.3,90.7 L233.0,90.5 L233.8,90.3 L234.6,90.1 L235.4,89.9 L236.2,89.7 L236.9,89.5 L237.7,89.4 L238.5,89.2 L239.3,89.0 L240.1,88.8 L240.8,88.6 L241.6,88.4 L242.4,88.2 L243.2,88.0 L244.0,87.9 L244.7,87.7 L245.5,87.5 L246.3,87.3 L247.1,87.1 L247.9,86.9 L248.6,86.7 L249.4,86.6 L250.2,86.4 L251.0,86.2 L251.8,86.0 L252.5,85.8 L253.3,85.6 L254.1,85.4 L254.9,85.2 L255.7,85.1 L256.4,84.9 L257.2,84.7 L258.0,84.5 L258.8,84.3 L259.6,84.1 L260.3,83.9 L261.1,83.8 L261.9,83.6 L262.7,83.4 L263.5,83.2 L264.2,83.0 L265.0,82.8 L265.8,82.6 L266.6,82.4 L267.4,82.3 L268.1,82.1 L268.9,81.9 L269.7,81.7 L270.5,81.5 L271.3,81.3 L272.0,81.1 L272.8,81.0 L273.6,80.8 L274.4,80.6 L275.2,80.4 L275.9,80.2 L276.7,80.0 L277.5,79.8 L278.3,79.6 L279.1,79.5 L279.8,79.3 L280.6,79.1 L281.4,78.9 L282.2,78.7 L283.0,78.5 L283.7,78.3 L284.5,78.1 L285.3,78.0 L286.1,77.8 L286.9,77.6 L287.6,77.4 L288.4,77.2 L289.2,77.0 L290.0,76.8 L290.8,76.7 L291.5,76.5 L292.3,76.3 L293.1,76.1 L293.9,75.9 L294.7,75.7 L295.4,75.5 L296.2,75.3 L297.0,75.2 L297.8,75.0 L298.6,74.8 L299.3,74.6 L300.1,74.4 L300.9,74.2 L301.7,74.0 L302.5,73.9 L303.2,73.7 L304.0,73.5 L304.8,73.3 L305.6,73.1 L306.4,72.9 L307.1,72.7 L307.9,72.5 L308.7,72.4 L309.5,72.2 L310.3,72.0 L311.0,71.8 L311.8,71.6 L312.6,71.4 L313.4,71.2 L314.2,71.0 L314.9,70.9 L315.7,70.7 L316.5,70.5 L317.3,70.3 L318.1,70.1 L318.8,69.9 L319.6,69.7 L320.4,69.6 L321.2,69.4 L322.0,69.2 L322.7,69.0 L323.5,68.8 L324.3,68.6 L325.1,68.4 L325.9,68.2 L326.6,68.1 L327.4,67.9 L328.2,67.7 L329.0,67.5 L329.8,67.3 L330.5,67.1 L331.3,66.9 L332.1,66.8 L332.9,66.6 L333.7,66.4 L334.4,66.2 L335.2,66.0 L336.0,65.8 L336.8,65.6 L337.6,65.4 L338.3,65.3 L339.1,65.1 L339.9,64.9 L340.7,64.7 L341.5,64.5 L342.2,64.3 L343.0,64.1 L343.8,64.0 L344.6,63.8 L345.4,63.6 L346.1,63.4 L346.9,63.2 L347.7,63.0 L348.5,62.8 L349.3,62.6 L350.0,62.5 L350.8,62.3 L351.6,62.1 L352.4,61.9 L353.2,61.7 L353.9,61.5 L354.7,61.3 L355.5,61.1 L356.3,61.0 L357.1,60.8 L357.8,60.6 L358.6,60.4 L359.4,60.2 L360.2,60.0 L361.0,59.8 L361.7,59.7 L362.5,59.5 L363.3,59.3 L364.1,59.1 L364.9,58.9 L365.6,58.7 L366.4,58.5 L367.2,58.3 L368.0,58.2 L368.8,58.0 L369.5,57.8 L370.3,57.6 L371.1,57.4 L371.9,57.2 L372.7,57.0 L373.4,56.9 L374.2,56.7 L375.0,56.5 L375.8,56.3 L376.6,56.1 L377.3,55.9 L378.1,55.7 L378.9,55.5 L379.7,55.4 L380.5,55.2 L381.2,55.0 L382.0,54.8 L382.8,54.6 L383.6,54.4 L384.4,54.2 L385.1,54.1 L385.9,53.9 L386.7,53.7 L387.5,53.5 L388.3,53.3 L389.0,53.1 L389.8,52.9 L390.6,52.7 L391.4,52.6 L392.2,52.4 L392.9,52.2 L393.7,52.0 L394.5,51.8 L395.3,51.6 L396.1,51.4 L396.8,51.2 L397.6,51.1 L398.4,50.9 L399.2,50.7 L400.0,50.5 L400.7,50.3 L401.5,50.1 L402.3,49.9 L403.1,49.8 L403.9,49.6 L404.6,49.4 L405.4,49.2 L406.2,49.0 L407.0,48.8 L407.8,48.6 L408.5,48.4 L409.3,48.3 L410.1,48.1 L410.9,47.9 L411.7,47.7 L412.4,47.5 L413.2,47.3 L414.0,47.1 L414.8,47.0 L415.6,46.8 L416.3,46.6 L417.1,46.4 L417.9,46.2 L418.7,46.0 L419.5,45.8 L420.2,45.6 L421.0,45.5 L421.8,45.3 L422.6,45.1 L423.4,44.9 L424.1,44.7 L424.9,44.5 L425.7,44.3 L426.5,44.2 L427.3,44.0 L428.0,43.8 L428.8,43.6 L429.6,43.4 L430.4,43.2 L431.2,43.0 L431.9,42.8 L432.7,42.7 L433.5,42.5 L434.3,42.3 L435.1,42.1 L435.8,41.9 L436.6,41.7 L437.4,41.5 L438.2,41.3 L439.0,41.2 L439.7,41.0 L440.5,40.8 L441.3,40.6 L442.1,40.4 L442.9,40.2 L443.6,40.0 L444.4,39.9 L445.2,39.7 L446.0,39.5 L446.8,39.3 L447.5,39.1 L448.3,38.9 L449.1,38.7 L449.9,38.5 L450.7,38.4 L451.4,38.2 L452.2,38.0 L453.0,37.8 L453.8,37.6 L454.6,37.4 L455.3,37.2 L456.1,37.1 L456.9,36.9 L457.7,36.7 L458.5,36.5 L459.2,36.3 L460.0,36.1 L460.8,35.9 L461.6,35.7 L462.4,35.6 L463.1,35.4 L463.9,35.2 L464.7,35.0 L465.5,34.8 L466.3,34.6 L467.0,34.4 L467.8,34.2 L468.6,34.1 L469.4,33.9 L470.2,33.7 L470.9,33.5 L471.7,33.3 L472.5,33.1 L473.3,32.9 L474.1,32.8 L474.8,32.6 L475.6,32.4 L476.4,32.2 L477.2,32.0 L478.0,31.8 L478.7,31.6 L479.5,31.4 L480.3,31.3 L481.1,31.1 L481.9,30.9 L482.6,30.7 L483.4,30.5 L484.2,30.3 L485.0,30.1 L485.8,30.0 L486.5,29.8 L487.3,29.6 L488.1,29.4 L488.9,29.2 L489.7,29.0 L490.4,28.8 L491.2,28.6 L492.0,28.5 L492.8,28.3 L493.6,28.1 L494.3,27.9 L495.1,27.7 L495.9,27.5 L496.7,27.3 L497.5,27.2 L498.2,27.0 L499.0,26.8 L499.8,26.6 L500.6,26.4 L501.4,26.2 L502.1,26.0 L502.9,25.8 L503.7,25.7 L504.5,25.5 L505.3,25.3 L506.0,25.1 L506.8,24.9 L507.6,24.7 L508.4,24.5 L509.2,24.3 L509.9,24.2 L510.7,24.0 L511.5,23.8 L512.3,23.6 L513.1,23.4 L513.8,23.2 L514.6,23.0 L515.4,22.9 L516.2,22.7 L517.0,22.5 L517.7,22.3 L518.5,22.1 L519.3,21.9 L520.1,21.7 L520.9,21.5 L521.6,21.4 L522.4,21.2 L523.2,21.0 L524.0,20.8 L524.8,20.6 L525.5,20.4 L526.3,20.2 L527.1,20.1 L527.9,19.9 L528.7,19.7 L529.4,19.5 L530.2,19.3 L531.0,19.1 L531.8,18.9 L532.6,18.7 L533.3,18.6 L534.1,18.4 L534.5,18.3"/>
</g>
<g fill="none" stroke-width="2" stroke-linejoin="round" clip-path="url(#cb)">
<path stroke="#0F6DCB" d="M63.0,285.5 L63.8,285.5 L64.6,285.5 L65.4,285.5 L66.2,285.5 L67.0,285.6 L67.8,285.6 L68.6,285.6 L69.4,285.6 L70.2,285.6 L71.0,285.6 L71.8,285.6 L72.6,285.6 L73.4,285.6 L74.2,285.6 L75.0,285.6 L75.8,285.7 L76.6,285.7 L77.4,285.7 L78.2,285.7 L79.0,285.7 L79.8,285.7 L80.6,285.7 L81.4,285.7 L82.2,285.7 L83.0,285.7 L83.8,285.7 L84.6,285.7 L85.4,285.7 L86.2,285.7 L87.0,285.8 L87.8,285.8 L88.6,285.8 L89.4,285.8 L90.2,285.8 L91.0,285.8 L91.8,285.8 L92.6,285.8 L93.4,285.8 L94.2,285.8 L95.0,285.8 L95.8,285.8 L96.6,285.8 L97.4,285.8 L98.2,285.8 L99.0,285.8 L99.8,285.8 L100.6,285.8 L101.4,285.8 L102.2,285.8 L103.0,285.8 L103.8,285.8 L104.6,285.8 L105.4,285.8 L106.2,285.8 L107.0,285.8 L107.8,285.8 L108.6,285.8 L109.4,285.8 L110.2,285.8 L111.0,285.8 L111.8,285.8 L112.6,285.8 L113.4,285.8 L114.2,285.8 L115.0,285.8 L115.8,285.8 L116.6,285.8 L117.4,285.8 L118.2,285.8 L119.0,285.8 L119.8,285.8 L120.6,285.8 L121.4,285.8 L122.2,285.8 L123.0,285.8 L123.8,285.8 L124.6,285.8 L125.4,285.8 L126.2,285.8 L127.0,285.8 L127.8,285.7 L128.6,285.7 L129.4,285.7 L130.2,285.7 L131.0,285.7 L131.8,285.7 L132.6,285.7 L133.4,285.7 L134.2,285.6 L135.0,285.6 L135.8,285.6 L136.6,285.6 L137.4,285.6 L138.2,285.5 L139.0,285.5 L139.8,285.5 L140.6,285.5 L141.4,285.4 L142.2,285.4 L143.0,285.4 L143.8,285.3 L144.6,285.2 L145.4,285.2 L146.2,285.1 L147.0,285.0 L147.8,284.9 L148.6,284.8 L149.4,284.8 L150.2,284.7 L151.0,284.6 L151.8,284.5 L152.6,284.4 L153.4,284.3 L154.2,284.2 L155.0,284.0 L155.8,283.8 L156.6,283.6 L157.3,283.3 L158.1,283.1 L158.8,282.7 L159.6,282.4 L160.3,282.1 L161.0,281.7 L161.7,281.2 L162.3,280.7 L163.0,280.2 L163.6,279.7 L164.2,279.1 L164.8,278.5 L165.3,278.0 L165.8,277.3 L166.3,276.6 L166.8,276.0 L167.2,275.3 L167.7,274.6 L168.2,274.0 L168.7,273.3 L169.2,272.7 L169.7,272.1 L170.3,271.5 L171.0,271.7 L171.4,272.5 L171.4,273.3 L171.5,274.1 L171.6,275.2 L171.6,276.3 L171.7,277.1 L171.7,278.0 L171.7,278.8 L171.8,279.6 L171.8,280.4 L171.9,281.5 L171.9,282.6 L172.0,283.6 L172.1,284.7 L172.1,285.8 L172.2,286.8 L172.2,287.9 L172.3,289.0 L172.4,290.2 L172.4,291.3 L172.5,292.4 L172.5,293.6 L172.6,294.8 L172.6,295.6 L172.7,296.4 L172.7,297.2 L172.8,298.1 L172.8,298.9 L172.8,299.8 L172.9,300.6 L172.9,301.4 L173.0,302.3 L173.0,303.1 L173.0,303.9 L173.1,305.1 L173.2,306.3 L173.2,307.4 L173.3,308.6 L173.3,309.4 L173.4,310.2 L173.4,311.1 L173.4,312.0 L173.5,312.9 L173.5,313.7 L173.6,314.6 L173.6,315.4 L173.7,316.6 L173.7,317.6 L173.8,318.6 L173.9,319.5 L174.1,320.2 L174.4,319.4 L174.6,318.6 L174.8,317.8 L175.0,316.9 L175.2,316.1 L175.4,315.3 L175.6,314.5 L175.8,313.7 L176.0,312.9 L176.3,312.1 L176.6,311.3 L176.9,310.5 L177.2,309.7 L177.5,308.9 L177.8,308.2 L178.1,307.5 L178.4,306.7 L178.7,305.9 L179.0,305.2 L179.3,304.4 L179.6,303.7 L180.0,303.0 L180.5,302.3 L181.0,301.6 L181.5,301.0 L182.1,300.4 L182.7,299.8 L183.3,299.3 L183.9,298.8 L184.5,298.3 L185.2,297.9 L186.0,297.5 L186.7,297.2 L187.5,296.9 L188.2,296.6 L189.0,296.3 L189.8,296.1 L190.5,295.8 L191.3,295.6 L192.1,295.4 L192.9,295.2 L193.7,295.1 L194.5,294.9 L195.3,294.7 L196.1,294.6 L196.9,294.5 L197.7,294.3 L198.5,294.2 L199.3,294.1 L200.1,294.0 L200.9,293.9 L201.7,293.8 L202.5,293.7 L203.3,293.7 L204.1,293.6 L204.9,293.5 L205.7,293.4 L206.5,293.4 L207.3,293.3 L208.1,293.2 L208.9,293.1 L209.7,293.0 L210.5,293.0 L211.3,292.9 L212.1,292.8 L212.9,292.7 L213.7,292.7 L214.5,292.6 L215.3,292.5 L216.1,292.4 L216.9,292.3 L217.7,292.2 L218.5,292.2 L219.3,292.1 L220.1,292.0 L220.9,291.9 L221.7,291.8 L222.5,291.7 L223.3,291.6 L224.1,291.6 L224.9,291.5 L225.7,291.4 L226.5,291.3 L227.3,291.2 L228.1,291.1 L228.9,291.0 L229.7,290.9 L230.5,290.8 L231.3,290.7 L232.1,290.6 L232.9,290.5 L233.7,290.4 L234.5,290.3 L235.3,290.2 L236.1,290.1 L236.9,290.0 L237.7,289.9 L238.5,289.7 L239.3,289.6 L240.1,289.5 L240.9,289.3 L241.7,289.2 L242.5,289.0 L243.3,288.9 L244.1,288.7 L244.9,288.5 L245.6,288.3 L246.4,288.1 L247.2,287.9 L248.0,287.7 L248.8,287.5 L249.5,287.3 L250.3,287.1 L251.1,286.9 L251.9,286.7 L252.7,286.5 L253.4,286.3 L254.2,286.1 L255.0,285.9 L255.8,285.6 L256.6,285.4 L257.3,285.2 L258.1,285.0 L258.9,284.7 L259.7,284.5 L260.5,284.3 L261.2,284.0 L262.0,283.8 L262.8,283.6 L263.6,283.3 L264.4,283.1 L265.1,282.8 L265.9,282.6 L266.7,282.3 L267.5,282.1 L268.2,281.8 L269.0,281.6 L269.7,281.3 L270.5,281.0 L271.3,280.8 L272.0,280.5 L272.8,280.2 L273.5,279.9 L274.3,279.6 L275.1,279.3 L275.8,279.0 L276.6,278.7 L277.3,278.4 L278.1,278.1 L278.8,277.8 L279.6,277.5 L280.3,277.2 L281.0,276.8 L281.8,276.5 L282.5,276.2 L283.3,275.8 L284.0,275.5 L284.7,275.1 L285.5,274.8 L286.2,274.4 L286.9,274.1 L287.6,273.7 L288.3,273.3 L289.1,273.0 L289.8,272.6 L290.5,272.2 L291.2,271.9 L291.9,271.5 L292.7,271.1 L293.4,270.7 L294.1,270.3 L294.8,269.9 L295.5,269.5 L296.3,269.2 L297.0,268.8 L297.7,268.4 L298.4,268.0 L299.1,267.6 L299.9,267.3 L300.6,266.9 L301.3,266.6 L302.0,266.2 L302.7,265.8 L303.5,265.5 L304.2,265.1 L304.9,264.8 L305.7,264.4 L306.4,264.1 L307.2,263.7 L307.9,263.4 L308.6,263.1 L309.4,262.8 L310.1,262.4 L310.9,262.1 L311.6,261.8 L312.4,261.5 L313.1,261.2 L313.9,260.9 L314.7,260.6 L315.4,260.4 L316.2,260.1 L316.9,259.8 L317.7,259.5 L318.5,259.2 L319.2,259.0 L320.0,258.7 L320.7,258.4 L321.5,258.2 L322.3,257.9 L323.0,257.7 L323.8,257.4 L324.6,257.2 L325.4,256.9 L326.1,256.7 L326.9,256.4 L327.7,256.2 L328.5,256.0 L329.3,255.7 L330.0,255.5 L330.8,255.3 L331.6,255.0 L332.4,254.8 L333.2,254.6 L333.9,254.3 L334.7,254.1 L335.5,253.9 L336.3,253.7 L337.1,253.5 L337.8,253.3 L338.6,253.0 L339.4,252.8 L340.2,252.7 L341.0,252.5 L341.7,252.3 L342.5,252.1 L343.3,251.9 L344.1,251.7 L344.9,251.5 L345.7,251.4 L346.5,251.2 L347.3,251.0 L348.1,250.9 L348.9,250.7 L349.7,250.6 L350.5,250.4 L351.3,250.3 L352.1,250.2 L352.9,250.0 L353.7,249.9 L354.5,249.8 L355.3,249.7 L356.1,249.6 L356.9,249.4 L357.7,249.3 L358.5,249.2 L359.3,249.1 L360.1,249.0 L360.9,248.9 L361.7,248.7 L362.5,248.6 L363.3,248.5 L364.1,248.4 L364.9,248.3 L365.7,248.1 L366.5,248.0 L367.3,247.9 L368.1,247.8 L368.9,247.7 L369.7,247.5 L370.5,247.4 L371.3,247.3 L372.1,247.2 L372.9,247.1 L373.7,247.0 L374.5,246.9 L375.3,246.8 L376.1,246.7 L376.9,246.6 L377.7,246.4 L378.5,246.3 L379.3,246.2 L380.1,246.1 L380.9,246.0 L381.7,245.9 L382.5,245.8 L383.3,245.7 L384.1,245.7 L384.9,245.6 L385.7,245.5 L386.5,245.4 L387.3,245.3 L388.1,245.2 L388.9,245.1 L389.7,245.0 L390.5,245.0 L391.3,244.9 L392.1,244.8 L392.9,244.7 L393.7,244.6 L394.5,244.6 L395.3,244.5 L396.1,244.4 L396.9,244.4 L397.7,244.3 L398.5,244.2 L399.3,244.2 L400.1,244.1 L400.9,244.0 L401.7,244.0 L402.5,243.9 L403.3,243.8 L404.1,243.7 L404.9,243.7 L405.7,243.6 L406.5,243.5 L407.3,243.5 L408.1,243.4 L408.9,243.3 L409.7,243.2 L410.5,243.2 L411.3,243.1 L412.1,243.0 L412.9,242.9 L413.7,242.9 L414.5,242.8 L415.3,242.7 L416.1,242.7 L416.9,242.6 L417.7,242.5 L418.5,242.5 L419.3,242.4 L420.1,242.4 L420.9,242.3 L421.7,242.3 L422.5,242.2 L423.3,242.2 L424.1,242.1 L424.9,242.1 L425.7,242.0 L426.5,242.0 L427.3,242.0 L428.1,241.9 L428.9,241.9 L429.7,241.9 L430.5,241.9 L431.3,241.9 L432.1,241.9 L432.9,241.8 L433.7,241.8 L434.5,241.8 L435.3,241.8 L436.1,241.8 L436.9,241.8 L437.7,241.8 L438.5,241.8 L439.3,241.7 L440.1,241.7 L440.9,241.7 L441.7,241.7 L442.5,241.7 L443.3,241.7 L444.1,241.7 L444.9,241.7 L445.7,241.7 L446.5,241.6 L447.3,241.6 L448.1,241.6 L448.9,241.6 L449.7,241.6 L450.5,241.6 L451.3,241.6 L452.1,241.6 L452.9,241.6 L453.7,241.6 L454.5,241.6 L455.3,241.6 L456.1,241.6 L456.9,241.5 L457.7,241.5 L458.5,241.5 L459.3,241.5 L460.1,241.5 L460.9,241.5 L461.7,241.5 L462.5,241.5 L463.3,241.5 L464.1,241.5 L464.9,241.5 L465.7,241.5 L466.5,241.5 L467.3,241.5 L468.1,241.5 L468.9,241.5 L469.7,241.5 L470.5,241.5 L471.3,241.5 L472.1,241.5 L472.9,241.5 L473.7,241.5 L474.5,241.5 L475.3,241.5 L476.1,241.5 L476.9,241.5 L477.7,241.5 L478.5,241.5 L479.3,241.5 L480.1,241.5 L480.9,241.5 L481.7,241.5 L482.5,241.5 L483.3,241.5 L484.1,241.5 L484.9,241.5 L485.7,241.5 L486.5,241.5 L487.3,241.5 L488.1,241.5 L488.9,241.5 L489.7,241.5 L490.5,241.5 L491.3,241.5 L492.1,241.4 L492.9,241.3 L493.7,241.2 L494.5,241.1 L495.3,240.9 L496.1,240.8 L496.9,240.6 L497.6,240.3 L498.4,239.9 L499.1,239.6 L499.8,239.2 L500.6,238.9 L501.4,238.7 L502.2,238.6 L503.0,238.6 L503.8,238.5 L504.6,238.5 L505.4,238.5 L506.2,238.4 L507.0,238.4 L507.8,238.4 L508.6,238.4 L509.4,238.4 L510.2,238.4 L511.0,238.4 L511.8,238.4 L512.6,238.4 L513.4,238.4 L514.2,238.4 L515.0,238.4 L515.8,238.4 L516.6,238.4 L517.4,238.4 L518.2,238.4 L519.0,238.4 L519.8,238.4 L520.6,238.4 L521.4,238.4 L522.2,238.4 L523.0,238.4 L523.8,238.4 L524.6,238.4 L525.4,238.4 L526.2,238.4 L527.0,238.4 L527.8,238.4 L528.6,238.4 L529.4,238.4 L530.2,238.4 L531.0,238.4 L531.8,238.4 L532.6,238.4 L533.4,238.4 L534.2,238.4 L534.5,238.4"/>
<path stroke="#FF4708" d="M63.0,331.0 L63.8,331.0 L64.6,331.0 L65.4,331.0 L66.2,331.0 L67.0,331.0 L67.8,331.0 L68.6,331.0 L69.4,331.0 L70.2,331.0 L71.0,331.0 L71.8,331.0 L72.6,331.0 L73.4,331.0 L74.2,331.0 L75.0,331.0 L75.8,331.0 L76.6,331.0 L77.4,331.0 L78.2,331.0 L79.0,331.0 L79.8,331.0 L80.6,331.0 L81.4,331.0 L82.2,331.0 L83.0,331.0 L83.8,331.0 L84.6,331.0 L85.4,331.0 L86.2,331.0 L87.0,331.0 L87.8,331.0 L88.6,331.0 L89.4,331.0 L90.2,331.0 L91.0,331.0 L91.8,331.0 L92.6,331.0 L93.4,331.0 L94.2,331.0 L95.0,331.0 L95.8,331.0 L96.6,331.0 L97.4,331.0 L98.2,331.0 L99.0,331.0 L99.8,331.0 L100.6,331.0 L101.4,331.0 L102.2,331.0 L103.0,331.0 L103.8,331.0 L104.6,331.0 L105.4,331.0 L106.2,331.0 L107.0,330.9 L107.8,330.9 L108.6,330.9 L109.4,330.9 L110.2,330.9 L111.0,330.9 L111.8,330.9 L112.6,330.8 L113.4,330.8 L114.2,330.8 L115.0,330.8 L115.8,330.8 L116.6,330.7 L117.4,330.7 L118.2,330.7 L119.0,330.7 L119.8,330.6 L120.6,330.6 L121.4,330.6 L122.2,330.5 L123.0,330.5 L123.8,330.5 L124.6,330.4 L125.4,330.4 L126.2,330.4 L127.0,330.3 L127.8,330.3 L128.6,330.3 L129.4,330.2 L130.2,330.2 L131.0,330.1 L131.8,330.1 L132.6,330.0 L133.4,329.9 L134.2,329.9 L135.0,329.8 L135.8,329.7 L136.6,329.6 L137.4,329.4 L138.2,329.3 L139.0,329.2 L139.8,329.1 L140.6,328.9 L141.4,328.8 L142.2,328.7 L143.0,328.5 L143.8,328.4 L144.6,328.3 L145.4,328.1 L146.2,328.0 L147.0,327.8 L147.8,327.7 L148.6,327.5 L149.4,327.4 L150.2,327.2 L151.0,327.0 L151.8,326.9 L152.6,326.7 L153.3,326.5 L154.1,326.3 L154.9,326.0 L155.7,325.8 L156.4,325.5 L157.2,325.3 L158.0,325.0 L158.7,324.6 L159.4,324.3 L160.2,323.9 L160.8,323.5 L161.5,323.0 L162.1,322.5 L162.7,322.0 L163.3,321.4 L163.8,320.8 L164.3,320.2 L164.8,319.5 L165.3,318.8 L165.7,318.1 L166.1,317.5 L166.5,316.7 L166.9,316.0 L167.3,315.3 L167.6,314.5 L168.0,313.7 L168.3,313.0 L168.7,312.3 L169.0,311.5 L169.4,310.8 L169.8,310.0 L170.1,309.3 L170.5,308.6 L171.0,308.0 L171.2,308.9 L171.3,309.7 L171.4,310.7 L171.5,311.5 L171.6,312.5 L171.7,313.5 L171.8,314.5 L171.8,315.5 L171.9,316.5 L172.0,317.6 L172.0,318.5 L172.0,319.3 L172.1,320.2 L172.1,321.1 L172.2,322.0 L172.2,322.9 L172.2,323.8 L172.3,324.6 L172.3,325.4 L172.4,326.6 L172.4,327.7 L172.5,328.9 L172.6,330.1 L172.6,331.3 L172.7,332.1 L172.7,332.9 L172.7,333.7 L172.8,334.6 L172.8,335.4 L172.9,336.4 L172.9,337.4 L172.9,338.4 L173.0,339.5 L173.0,340.5 L173.1,341.6 L173.1,342.6 L173.1,343.6 L173.2,344.6 L173.2,345.5 L173.3,346.3 L173.3,347.3 L173.4,348.4 L173.4,349.4 L173.5,350.4 L173.6,351.4 L173.6,352.4 L173.7,353.2 L173.8,354.2 L173.9,355.2 L174.2,355.6 L174.6,354.8 L174.9,354.0 L175.1,353.2 L175.4,352.4 L175.6,351.6 L175.8,350.8 L176.1,350.0 L176.4,349.3 L176.7,348.5 L177.0,347.8 L177.4,347.0 L177.7,346.3 L178.1,345.6 L178.6,344.9 L179.0,344.2 L179.5,343.6 L180.0,343.0 L180.6,342.3 L181.1,341.7 L181.6,341.1 L182.2,340.5 L182.8,340.0 L183.4,339.5 L184.1,339.0 L184.8,338.6 L185.5,338.2 L186.3,337.9 L187.0,337.5 L187.8,337.2 L188.5,337.0 L189.3,336.7 L190.1,336.5 L190.9,336.3 L191.6,336.1 L192.4,335.9 L193.2,335.7 L194.0,335.5 L194.8,335.4 L195.6,335.2 L196.4,335.1 L197.2,334.9 L198.0,334.8 L198.8,334.7 L199.6,334.6 L200.4,334.4 L201.2,334.3 L202.0,334.2 L202.8,334.2 L203.6,334.1 L204.4,334.0 L205.2,333.9 L206.0,333.8 L206.8,333.7 L207.6,333.7 L208.4,333.6 L209.2,333.6 L210.0,333.5 L210.8,333.4 L211.6,333.4 L212.4,333.3 L213.2,333.3 L214.0,333.3 L214.8,333.2 L215.6,333.2 L216.4,333.1 L217.2,333.1 L218.0,333.0 L218.8,333.0 L219.6,332.9 L220.4,332.9 L221.2,332.9 L222.0,332.8 L222.8,332.8 L223.6,332.7 L224.4,332.7 L225.2,332.7 L226.0,332.6 L226.8,332.6 L227.6,332.6 L228.4,332.5 L229.2,332.5 L230.0,332.4 L230.8,332.4 L231.6,332.4 L232.4,332.3 L233.2,332.3 L234.0,332.3 L234.8,332.3 L235.6,332.2 L236.4,332.2 L237.2,332.2 L238.0,332.1 L238.8,332.1 L239.6,332.1 L240.4,332.0 L241.2,332.0 L242.0,332.0 L242.8,332.0 L243.6,331.9 L244.4,331.9 L245.2,331.9 L246.0,331.8 L246.8,331.8 L247.6,331.8 L248.4,331.8 L249.2,331.7 L250.0,331.7 L250.8,331.7 L251.6,331.7 L252.4,331.6 L253.2,331.6 L254.0,331.6 L254.8,331.6 L255.6,331.5 L256.4,331.5 L257.2,331.5 L258.0,331.4 L258.8,331.4 L259.6,331.4 L260.4,331.4 L261.2,331.3 L262.0,331.3 L262.8,331.3 L263.6,331.3 L264.4,331.2 L265.2,331.2 L266.0,331.2 L266.8,331.1 L267.6,331.1 L268.4,331.1 L269.2,331.0 L270.0,331.0 L270.8,331.0 L271.6,331.0 L272.4,330.9 L273.2,330.9 L274.0,330.9 L274.8,330.8 L275.6,330.8 L276.4,330.8 L277.2,330.7 L278.0,330.7 L278.8,330.7 L279.6,330.6 L280.4,330.6 L281.2,330.5 L282.0,330.5 L282.8,330.5 L283.6,330.4 L284.4,330.4 L285.2,330.4 L286.0,330.3 L286.8,330.3 L287.6,330.3 L288.4,330.2 L289.2,330.2 L290.0,330.1 L290.8,330.1 L291.6,330.1 L292.4,330.0 L293.2,330.0 L294.0,329.9 L294.8,329.9 L295.6,329.9 L296.4,329.8 L297.2,329.8 L298.0,329.7 L298.8,329.7 L299.6,329.6 L300.4,329.6 L301.2,329.5 L302.0,329.5 L302.8,329.4 L303.6,329.4 L304.4,329.3 L305.2,329.3 L306.0,329.2 L306.8,329.1 L307.6,329.1 L308.4,329.0 L309.2,329.0 L310.0,328.9 L310.8,328.8 L311.6,328.8 L312.4,328.7 L313.2,328.6 L314.0,328.6 L314.8,328.5 L315.6,328.4 L316.4,328.3 L317.2,328.3 L318.0,328.2 L318.8,328.1 L319.6,328.0 L320.4,328.0 L321.2,327.9 L322.0,327.8 L322.8,327.7 L323.6,327.6 L324.4,327.5 L325.2,327.5 L326.0,327.4 L326.8,327.3 L327.6,327.1 L328.4,327.0 L329.2,326.9 L330.0,326.8 L330.8,326.7 L331.6,326.5 L332.4,326.4 L333.2,326.2 L334.0,326.1 L334.8,325.9 L335.6,325.7 L336.4,325.5 L337.1,325.3 L337.9,325.1 L338.7,324.9 L339.5,324.7 L340.3,324.4 L341.0,324.2 L341.8,323.9 L342.6,323.6 L343.3,323.3 L344.0,323.0 L344.8,322.6 L345.5,322.2 L346.2,321.8 L346.9,321.4 L347.6,320.9 L348.2,320.5 L348.9,320.0 L349.5,319.5 L350.1,318.9 L350.7,318.3 L351.2,317.7 L351.8,317.1 L352.3,316.5 L352.7,315.9 L353.2,315.2 L353.6,314.5 L354.1,313.8 L354.5,313.1 L354.8,312.3 L355.2,311.6 L355.6,310.9 L355.9,310.1 L356.2,309.4 L356.5,308.6 L356.8,307.8 L357.1,307.1 L357.4,306.3 L357.7,305.5 L357.9,304.7 L358.2,303.9 L358.4,303.1 L358.7,302.3 L358.9,301.5 L359.1,300.7 L359.4,299.9 L359.7,299.1 L359.9,298.3 L360.2,297.6 L360.4,296.8 L360.7,296.0 L360.9,295.2 L361.2,294.4 L361.4,293.6 L361.6,292.8 L361.8,291.9 L362.0,291.2 L362.2,290.4 L362.4,289.5 L362.6,288.7 L362.8,287.9 L363.0,287.0 L363.2,286.2 L363.4,285.4 L363.6,284.6 L363.8,283.8 L363.9,283.0 L364.1,282.2 L364.2,281.3 L364.4,280.5 L364.6,279.6 L364.7,278.8 L364.9,278.0 L365.0,277.1 L365.2,276.3 L365.4,275.4 L365.6,274.6 L365.8,273.7 L366.0,272.9 L366.2,272.1 L366.4,271.3 L366.6,270.5 L366.9,269.7 L367.1,268.9 L367.3,268.1 L367.6,267.3 L367.8,266.5 L368.1,265.7 L368.3,264.9 L368.6,264.2 L368.9,263.4 L369.1,262.6 L369.4,261.8 L369.7,261.1 L370.0,260.3 L370.3,259.5 L370.6,258.8 L371.0,258.0 L371.4,257.3 L371.8,256.6 L372.3,256.0 L372.8,255.3 L373.3,254.7 L373.8,254.1 L374.4,253.5 L375.0,252.9 L375.6,252.4 L376.2,251.8 L376.8,251.3 L377.4,250.8 L378.1,250.3 L378.7,249.8 L379.4,249.4 L380.1,248.9 L380.8,248.5 L381.5,248.1 L382.2,247.7 L382.9,247.4 L383.7,247.0 L384.4,246.7 L385.2,246.4 L385.9,246.2 L386.7,245.9 L387.5,245.7 L388.3,245.5 L389.1,245.3 L389.8,245.0 L390.6,244.8 L391.4,244.6 L392.2,244.4 L393.0,244.2 L393.7,244.1 L394.5,243.9 L395.3,243.7 L396.1,243.6 L396.9,243.5 L397.7,243.4 L398.5,243.3 L399.3,243.2 L400.1,243.1 L400.9,243.0 L401.7,242.9 L402.5,242.8 L403.3,242.7 L404.1,242.6 L404.9,242.5 L405.7,242.4 L406.5,242.3 L407.3,242.2 L408.1,242.1 L408.9,242.0 L409.7,241.9 L410.5,241.8 L411.3,241.7 L412.1,241.6 L412.9,241.5 L413.7,241.5 L414.5,241.4 L415.3,241.3 L416.1,241.2 L416.9,241.1 L417.7,241.0 L418.5,240.9 L419.3,240.9 L420.1,240.8 L420.9,240.7 L421.7,240.7 L422.5,240.6 L423.3,240.6 L424.1,240.5 L424.9,240.4 L425.7,240.4 L426.5,240.3 L427.3,240.3 L428.1,240.2 L428.9,240.2 L429.7,240.1 L430.5,240.1 L431.3,240.0 L432.1,240.0 L432.9,240.0 L433.7,239.9 L434.5,239.9 L435.3,239.8 L436.1,239.8 L436.9,239.8 L437.7,239.8 L438.5,239.7 L439.3,239.7 L440.1,239.7 L440.9,239.7 L441.7,239.7 L442.5,239.6 L443.3,239.6 L444.1,239.6 L444.9,239.6 L445.7,239.6 L446.5,239.6 L447.3,239.6 L448.1,239.5 L448.9,239.5 L449.7,239.5 L450.5,239.5 L451.3,239.5 L452.1,239.5 L452.9,239.5 L453.7,239.5 L454.5,239.4 L455.3,239.4 L456.1,239.4 L456.9,239.4 L457.7,239.4 L458.5,239.4 L459.3,239.4 L460.1,239.4 L460.9,239.4 L461.7,239.4 L462.5,239.4 L463.3,239.3 L464.1,239.3 L464.9,239.3 L465.7,239.3 L466.5,239.3 L467.3,239.3 L468.1,239.3 L468.9,239.3 L469.7,239.3 L470.5,239.3 L471.3,239.3 L472.1,239.3 L472.9,239.3 L473.7,239.3 L474.5,239.3 L475.3,239.3 L476.1,239.3 L476.9,239.3 L477.7,239.3 L478.5,239.3 L479.3,239.3 L480.1,239.3 L480.9,239.3 L481.7,239.3 L482.5,239.3 L483.3,239.3 L484.1,239.3 L484.9,239.3 L485.7,239.3 L486.5,239.3 L487.3,239.2 L488.1,239.2 L488.9,239.2 L489.7,239.2 L490.5,239.2 L491.3,239.2 L492.1,239.2 L492.9,239.2 L493.7,239.2 L494.5,239.2 L495.3,239.2 L496.1,239.1 L496.9,239.0 L497.7,238.8 L498.5,238.6 L499.3,238.5 L500.1,238.5 L500.9,238.5 L501.7,238.5 L502.5,238.5 L503.3,238.5 L504.1,238.5 L504.9,238.5 L505.7,238.5 L506.5,238.5 L507.3,238.5 L508.1,238.5 L508.9,238.4 L509.7,238.4 L510.5,238.4 L511.3,238.4 L512.1,238.4 L512.9,238.4 L513.7,238.4 L514.5,238.4 L515.3,238.4 L516.1,238.4 L516.9,238.4 L517.7,238.4 L518.5,238.4 L519.3,238.4 L520.1,238.4 L520.9,238.4 L521.7,238.4 L522.5,238.4 L523.3,238.4 L524.1,238.4 L524.9,238.4 L525.7,238.4 L526.5,238.4 L527.3,238.4 L528.1,238.4 L528.9,238.4 L529.7,238.4 L530.5,238.4 L531.3,238.4 L532.1,238.4 L532.9,238.4 L533.7,238.4 L534.5,238.4"/>
<path stroke="#0DAE3E" d="M63.0,339.4 L63.7,339.1 L64.5,338.7 L65.2,338.4 L66.0,338.1 L66.7,337.8 L67.4,337.4 L68.2,337.1 L68.9,336.8 L69.7,336.5 L70.4,336.1 L71.1,335.8 L71.9,335.5 L72.6,335.2 L73.4,334.8 L73.6,334.7 M79.0,332.4 L79.7,332.0 L80.5,331.6 L81.2,331.3 L81.9,330.9 L82.6,330.5 L83.3,330.1 L84.1,329.8 L84.8,329.4 L85.5,329.0 L86.2,328.6 L86.9,328.2 L87.6,327.8 L88.3,327.4 L89.0,327.0 L89.2,326.9 M94.4,324.1 L95.2,323.7 L95.9,323.3 L96.6,322.9 L97.3,322.5 L98.0,322.1 L98.8,321.7 L99.5,321.4 L100.2,321.0 L100.9,320.6 L101.6,320.2 L102.4,319.8 L103.1,319.4 L103.8,319.0 L104.5,318.6 L104.6,318.6 M109.2,316.2 L109.9,315.8 L110.6,315.5 L111.4,315.1 L112.1,314.7 L112.8,314.4 L113.5,314.0 L114.2,313.6 L115.0,313.3 L115.7,312.9 L116.4,312.6 L117.1,312.2 L117.8,311.9 L118.6,311.5 L119.3,311.2 L119.6,311.0 M124.9,308.4 L125.6,308.1 L126.4,307.7 L127.1,307.4 L127.9,307.1 L128.6,306.7 L129.3,306.4 L130.1,306.0 L130.8,305.7 L131.6,305.4 L132.3,305.0 L133.0,304.7 L133.8,304.4 L134.5,304.0 L135.3,303.7 L135.4,303.6 M140.8,301.2 L141.6,300.8 L142.3,300.5 L143.0,300.2 L143.8,299.8 L144.5,299.5 L145.3,299.2 L146.0,298.8 L146.7,298.5 L147.5,298.2 L148.2,297.8 L149.0,297.5 L149.7,297.1 L150.4,296.8 L151.2,296.4 L151.3,296.3 M156.6,293.6 L157.3,293.1 L158.0,292.7 L158.7,292.3 L159.3,291.9 L160.0,291.4 L160.7,290.9 L161.4,290.5 L162.0,290.0 L162.7,289.5 L163.3,289.0 L164.0,288.5 L164.6,288.0 L165.2,287.5 L165.7,286.8 L165.8,286.7 M168.5,281.0 L168.9,280.3 L169.3,279.6 L169.8,278.9 L170.5,278.5 L171.0,279.0 L171.2,279.9 L171.3,280.7 L171.3,281.7 L171.4,282.8 L171.4,283.9 L171.5,285.0 L171.6,286.0 L171.6,286.4 M171.9,292.5 L171.9,293.4 L172.0,294.2 L172.0,295.0 L172.0,295.8 L172.1,296.7 L172.1,297.5 L172.2,298.4 L172.2,299.3 L172.2,300.2 L172.3,301.0 L172.3,301.9 L172.4,303.0 L172.4,303.7 M172.9,310.0 L173.0,310.8 L173.1,311.7 L173.2,312.6 L173.3,313.5 L173.4,314.4 L173.5,315.3 L173.7,316.2 L173.8,317.1 L173.9,318.1 L174.0,319.0 L174.1,319.9 L174.3,320.7 L174.4,321.3 M175.9,320.0 L176.1,319.2 L176.4,318.4 L176.6,317.6 L176.9,316.8 L177.2,316.0 L177.5,315.2 L177.8,314.5 L178.1,313.7 L178.4,312.9 L178.7,312.1 L179.0,311.3 L179.1,310.8 M180.5,307.5 L180.9,306.8 L181.4,306.1 L181.8,305.4 L182.3,304.8 L182.8,304.2 L183.4,303.6 L184.0,303.0 L184.6,302.5 L185.3,302.0 L185.9,301.5 L186.6,301.0 L187.3,300.6 L188.0,300.2 L188.8,299.9 L188.9,299.8 M194.5,298.1 L195.3,298.0 L196.1,297.9 L196.9,297.8 L197.7,297.7 L198.5,297.6 L199.3,297.6 L200.1,297.6 L200.9,297.6 L201.7,297.6 L202.5,297.7 L203.3,297.7 L204.1,297.8 L204.9,297.9 L205.7,298.0 L206.1,298.0 M212.0,299.8 L212.8,300.1 L213.5,300.4 L214.2,300.7 L215.0,301.1 L215.7,301.4 L216.4,301.8 L217.1,302.1 L217.9,302.5 L218.6,302.8 L219.3,303.2 L220.1,303.5 L220.8,303.9 L221.5,304.2 L222.3,304.5 L222.5,304.6 M228.0,306.8 L228.8,307.1 L229.6,307.3 L230.4,307.5 L231.2,307.8 L231.9,308.0 L232.7,308.2 L233.5,308.4 L234.3,308.5 L235.1,308.6 L235.9,308.7 L236.7,308.8 L237.5,308.9 L238.3,308.9 L239.1,309.0 L239.4,309.0 M245.2,308.2 L246.0,308.0 L246.8,307.8 L247.5,307.5 L248.3,307.2 L249.0,306.8 L249.7,306.5 L250.4,306.1 L251.2,305.7 L251.9,305.3 L252.6,305.0 L253.3,304.7 L254.1,304.3 L254.8,304.0 L255.6,303.7 L255.8,303.6 M261.5,301.2 L262.2,300.8 L262.9,300.5 L263.7,300.1 L264.4,299.7 L265.1,299.3 L265.8,298.9 L266.5,298.5 L267.2,298.1 L267.9,297.7 L268.6,297.3 L269.3,296.8 L270.0,296.4 L270.7,296.0 L271.4,295.6 L271.5,295.4 M276.6,292.3 L277.2,291.8 L277.9,291.4 L278.6,290.9 L279.3,290.5 L280.0,290.0 L280.6,289.6 L281.3,289.1 L281.9,288.6 L282.6,288.2 L283.3,287.7 L283.9,287.3 L284.6,286.8 L285.2,286.3 L285.9,285.9 L286.1,285.7 M291.0,282.5 L291.7,282.0 L292.4,281.6 L293.1,281.2 L293.8,280.8 L294.5,280.4 L295.2,280.0 L295.9,279.6 L296.6,279.3 L297.3,278.9 L298.0,278.5 L298.7,278.1 L299.4,277.6 L300.1,277.2 L300.8,276.8 L301.1,276.6 M306.5,273.0 L307.2,272.6 L307.9,272.2 L308.7,271.9 L309.4,271.5 L310.1,271.2 L310.9,270.8 L311.6,270.5 L312.4,270.2 L313.1,269.9 L313.8,269.5 L314.6,269.2 L315.3,268.9 L316.1,268.5 L316.8,268.2 L317.0,268.1 M322.2,265.3 L323.0,265.0 L323.7,264.7 L324.5,264.4 L325.2,264.1 L326.0,263.8 L326.7,263.5 L327.5,263.2 L328.3,262.9 L329.0,262.6 L329.8,262.3 L330.5,262.1 L331.3,261.8 L332.1,261.5 L332.8,261.2 L333.0,261.1 M338.5,258.8 L339.2,258.6 L340.0,258.3 L340.8,258.1 L341.6,257.8 L342.3,257.6 L343.1,257.4 L343.9,257.2 L344.7,257.0 L345.5,256.8 L346.2,256.6 L347.0,256.4 L347.8,256.2 L348.6,256.0 L349.4,255.7 L349.6,255.7 M355.0,254.2 L355.8,254.0 L356.6,253.8 L357.3,253.6 L358.1,253.4 L358.9,253.3 L359.7,253.1 L360.5,252.9 L361.3,252.7 L362.0,252.5 L362.8,252.4 L363.6,252.2 L364.4,252.0 L365.2,251.8 L365.9,251.6 L366.3,251.5 M372.0,250.0 L372.8,249.8 L373.6,249.7 L374.4,249.6 L375.2,249.4 L376.0,249.3 L376.8,249.2 L377.6,249.1 L378.4,248.9 L379.2,248.8 L380.0,248.7 L380.8,248.6 L381.6,248.5 L382.4,248.4 L383.2,248.2 L383.4,248.2 M389.3,247.3 L390.1,247.2 L390.9,247.1 L391.7,247.0 L392.5,247.0 L393.3,246.9 L394.1,246.8 L394.9,246.7 L395.7,246.6 L396.5,246.5 L397.3,246.5 L398.1,246.4 L398.9,246.3 L399.7,246.2 L400.5,246.2 L400.8,246.1 M407.0,245.6 L407.8,245.5 L408.6,245.4 L409.4,245.4 L410.2,245.3 L411.0,245.2 L411.8,245.2 L412.6,245.1 L413.4,245.0 L414.2,245.0 L415.0,244.9 L415.8,244.8 L416.6,244.8 L417.4,244.7 L418.2,244.6 L418.6,244.6 M424.5,244.1 L425.3,244.1 L426.1,244.0 L426.9,243.9 L427.7,243.9 L428.5,243.8 L429.3,243.7 L430.1,243.7 L430.9,243.6 L431.7,243.5 L432.5,243.5 L433.3,243.4 L434.1,243.4 L434.9,243.3 L435.7,243.2 L436.0,243.2 M441.9,242.9 L442.7,242.9 L443.5,242.8 L444.3,242.8 L445.1,242.8 L445.9,242.7 L446.7,242.7 L447.5,242.7 L448.3,242.6 L449.1,242.6 L449.9,242.6 L450.7,242.5 L451.5,242.5 L452.3,242.5 L453.1,242.4 L453.5,242.4 M459.0,242.2 L459.8,242.2 L460.6,242.2 L461.4,242.2 L462.2,242.2 L463.0,242.1 L463.8,242.1 L464.6,242.1 L465.4,242.1 L466.2,242.1 L467.0,242.1 L467.8,242.0 L468.6,242.0 L469.4,242.0 L470.2,242.0 L470.6,242.0 M476.5,241.9 L477.3,241.9 L478.1,241.9 L478.9,241.9 L479.7,241.9 L480.5,241.9 L481.3,241.9 L482.1,241.9 L482.9,241.9 L483.7,241.9 L484.5,241.9 L485.3,241.9 L486.1,241.9 L486.9,241.9 L487.7,241.8 L488.1,241.8 M494.0,241.3 L494.8,241.1 L495.5,240.9 L496.3,240.7 L497.1,240.5 L497.8,240.2 L498.6,239.8 L499.3,239.5 L500.0,239.1 L500.7,238.7 L501.5,238.4 L502.2,238.1 L503.0,237.8 L503.7,237.5 L504.5,237.2 L504.7,237.1 M511.3,236.9 L512.1,236.9 L512.9,236.9 L513.7,236.9 L514.5,236.9 L515.3,236.9 L516.1,236.9 L516.9,236.9 L517.7,236.9 L518.5,236.9 L519.3,236.9 L520.1,236.9 L520.9,236.9 L521.7,236.9 L522.5,236.9 L522.9,236.9 M528.8,236.9 L529.6,236.9 L530.4,236.9 L531.2,236.9 L532.0,236.9 L532.8,236.9 L533.6,236.9 L534.4,236.9 L534.5,236.9"/>
<path stroke="#FFA800" d="M63,238.4 H534.5"/>
</g>
<path d="M240.4,88.1 V306.6" fill="none" stroke="#111" stroke-width="1.6" stroke-dasharray="11.2 6.1"/>
<path d="M364.6,324 L249,305.8" fill="none" stroke="#111" stroke-width="1.5"/>
<path d="M243.3,305 L252.2,301.9 L249.6,305.9 L250.8,309.7 Z" fill="#111"/>
<rect x="324.5" y="12.5" width="209.2" height="102" fill="#fff"/>
<path d="M324.5,114.8 H533.7" fill="none" stroke="#c6c6c6" stroke-width="1.3"/>
<path d="M324.5,12.5 V115 M324.5,12.5 H533.7 V115" fill="none" stroke="#5a5a5a" stroke-width="1.1"/>
<g fill="none" stroke-width="2">
<path stroke="#0F6DCB" d="M328.3,24.7 H355"/>
<path stroke="#FF4708" d="M328.3,49.6 H355"/>
<path stroke="#0DAE3E" d="M328.3,74.9 H341.5 M349,74.9 H355"/>
<path stroke="#FFA800" d="M328.3,98.3 H355"/>
</g>
<text class="b" x="359" y="29.6" font-size="17" textLength="139" lengthAdjust="spacingAndGlyphs">without feedforward</text>
<text class="b" x="359" y="54.2" font-size="17" textLength="171.5" lengthAdjust="spacingAndGlyphs">proportional feedforward</text>
<text class="b" x="363.2" y="79.6" font-size="15.2" textLength="105.2" lengthAdjust="spacingAndGlyphs">BPF feedforward</text>
<text class="b" x="360.5" y="103.7" font-size="17"><tspan font-style="italic">L</tspan><tspan font-style="italic" font-size="11" dy="2.6">g</tspan><tspan dy="-2.6" dx="0.5">=11mH</tspan></text>
<text x="58.6" y="21.4" font-size="20" text-anchor="end">60</text>
<text x="58.3" y="57.9" font-size="20" text-anchor="end">40</text>
<text x="58.3" y="94.6" font-size="20" text-anchor="end">20</text>
<text x="56.0" y="132.7" font-size="20" text-anchor="end">0</text>
<text x="57.8" y="169.0" font-size="20" text-anchor="end">-20</text>
<text x="58.6" y="204.3" font-size="20" text-anchor="end">-40</text>
<text x="57.9" y="222.5" font-size="20" text-anchor="end">135</text>
<text x="58.2" y="247.0" font-size="20" text-anchor="end">90</text>
<text x="57.0" y="292.5" font-size="20" text-anchor="end">0</text>
<text x="57.0" y="337.7" font-size="20" text-anchor="end">-90</text>
<text x="56.2" y="384.1" font-size="20" text-anchor="end">-180</text>
<text x="50.7" y="405.2" font-size="20" letter-spacing="0.5">10<tspan font-size="13" dx="-0.6" dy="-11.2" letter-spacing="0">1</tspan></text>
<text x="206.6" y="405.2" font-size="20" letter-spacing="0.5">10<tspan font-size="13" dx="-0.6" dy="-11.2" letter-spacing="0">2</tspan></text>
<text x="361.8" y="405.2" font-size="20" letter-spacing="0.5">10<tspan font-size="13" dx="-0.6" dy="-11.2" letter-spacing="0">3</tspan></text>
<text x="518.1" y="405.2" font-size="20" letter-spacing="0.5">10<tspan font-size="13" dx="-0.6" dy="-11.2" letter-spacing="0">4</tspan></text>
<text x="239.5" y="419.4" font-size="17" textLength="107" lengthAdjust="spacingAndGlyphs">Frequency (Hz)</text>
<text transform="translate(21.5,142.6) rotate(-90)" font-size="16" textLength="98.3" lengthAdjust="spacingAndGlyphs">Magnitude(dB)</text>
<text transform="translate(21.4,319.6) rotate(-90)" font-size="16" textLength="68.6" lengthAdjust="spacingAndGlyphs">Phase(deg)</text>
<text class="b" x="376.6" y="324.7" font-size="17" textLength="121" lengthAdjust="spacing"><tspan font-style="italic">frequence</tspan>:135Hz</text>
<text class="b" x="377.8" y="344.5" font-size="17" textLength="87.8" lengthAdjust="spacing"><tspan font-style="italic">phase</tspan>:-46.2°</text>
</svg></body></html>
